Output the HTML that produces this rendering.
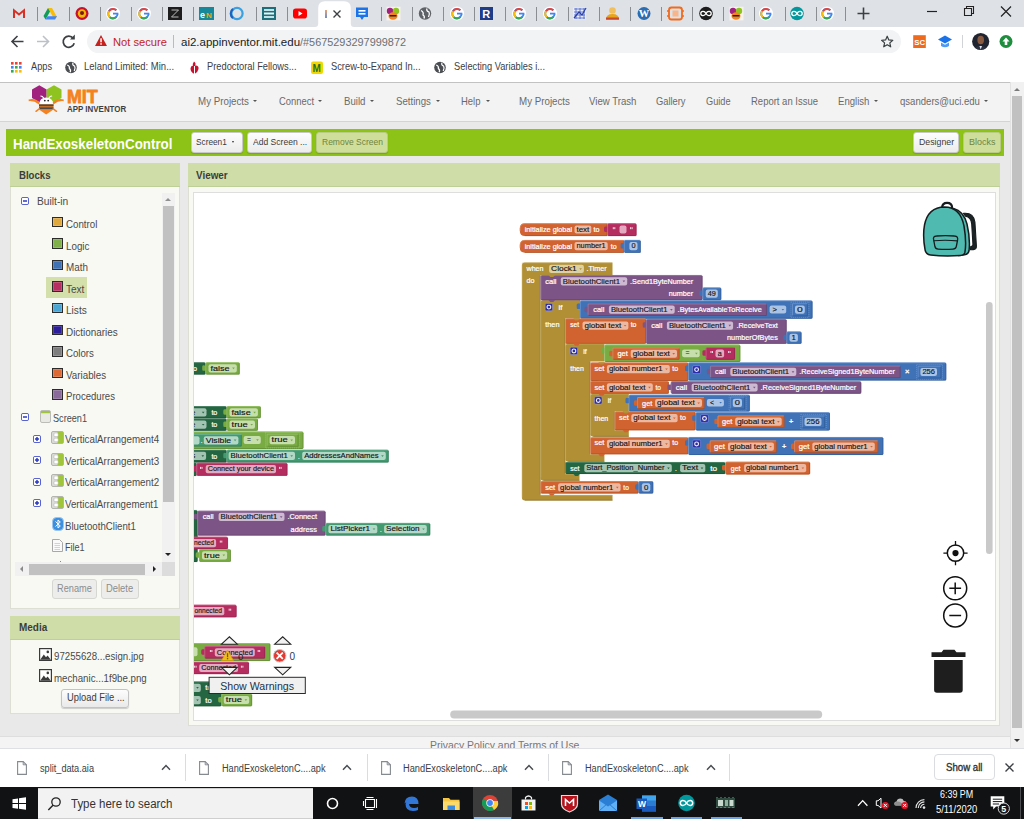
<!DOCTYPE html>
<html>
<head>
<meta charset="utf-8">
<title>MIT App Inventor</title>
<style>
*{box-sizing:border-box;margin:0;padding:0}
html,body{width:1024px;height:819px;overflow:hidden;background:#e9e9e9;font-family:"Liberation Sans",sans-serif}
.a{position:absolute}
#root{position:absolute;left:0;top:0;width:1024px;height:819px;overflow:hidden;background:#e9e9e9}
/* chrome */
#tabs{left:0;top:0;width:1024px;height:27px;background:#dee1e6}
#addr{left:0;top:27px;width:1024px;height:29px;background:#fff}
#pill{left:87.3px;top:30.2px;width:814.2px;height:22.8px;border-radius:11.4px;background:#f1f3f4}
#bm{left:0;top:56px;width:1024px;height:26.5px;background:#fff;border-bottom:1px solid #c2c2c2}
.t12{font-size:12px;color:#3c4043;white-space:nowrap;line-height:14px}
.sep{width:1px;height:14px;top:7px;background:#8a8d91}
/* app */
#nav{left:0;top:82.5px;width:1010px;height:39px;background:#f3f3f3;border-bottom:1px solid #d4d4d4}
.nv{font-size:12px;color:#6f6f6f;top:13px;white-space:nowrap;line-height:14px}
#green{left:6px;top:129.2px;width:997.5px;height:26.6px;background:#8dc216}
.btn{height:20px;top:3px;border:1px solid #c6c6c6;border-radius:3px;background:#f4f4f4;font-size:11px;color:#333;line-height:18px;text-align:center;white-space:nowrap;box-shadow:0 1px 1px rgba(0,0,0,.15)}
.panel{background:#f7f8f1;border:1px solid #d8dccb}
.phead{background:#d0dfa7;font-weight:bold;font-size:12px;color:#3a3a3a;line-height:25px;height:25px;padding-left:8px}
.tl{font-size:12px;color:#444;white-space:nowrap;line-height:14px}
.sq{width:12px;height:12px;border:1px solid #333;box-shadow:inset 0 0 0 1px rgba(255,255,255,.25)}
/* bottom */
#dl{left:0;top:747.6px;width:1024px;height:39.4px;background:#fff;border-top:1.4px solid #dfe0e6}
#task{left:0;top:787px;width:1024px;height:32px;background:#111214}
</style>
</head>
<body>
<div id="root">
<div id="tabs" class="a"></div>
<!-- tab separators -->
<div class="a sep" style="left:37px"></div><div class="a sep" style="left:69px"></div><div class="a sep" style="left:100px"></div><div class="a sep" style="left:131px"></div><div class="a sep" style="left:162px"></div><div class="a sep" style="left:193px"></div><div class="a sep" style="left:225px"></div><div class="a sep" style="left:256px"></div><div class="a sep" style="left:287px"></div>
<div class="a sep" style="left:381px"></div><div class="a sep" style="left:412px"></div><div class="a sep" style="left:443px"></div><div class="a sep" style="left:474px"></div><div class="a sep" style="left:505px"></div><div class="a sep" style="left:536px"></div><div class="a sep" style="left:568px"></div><div class="a sep" style="left:599px"></div><div class="a sep" style="left:630px"></div><div class="a sep" style="left:661px"></div><div class="a sep" style="left:692px"></div><div class="a sep" style="left:723px"></div><div class="a sep" style="left:754px"></div><div class="a sep" style="left:785px"></div><div class="a sep" style="left:816px"></div><div class="a sep" style="left:845px"></div>
<!-- active tab -->
<svg class="a" style="left:310px;top:0" width="50" height="27" viewBox="310 0 50 27"><path d="M315 27 Q318.2 27 318.2 23.5 V8 Q318.2 1.2 325 1.2 H344 Q350.8 1.2 350.8 8 V23.5 Q350.8 27 354 27 Z" fill="#fff"/></svg>
<div class="a" style="left:325px;top:9.5px;width:1.6px;height:8px;background:linear-gradient(#e8a070,#6a8fd0)"></div>
<svg class="a" style="left:332px;top:9px" width="10" height="10" viewBox="0 0 10 10"><path d="M1.5 1.5 L8.5 8.5 M8.5 1.5 L1.5 8.5" stroke="#3c4043" stroke-width="1.4" fill="none"/></svg>
<!-- favicons -->
<svg class="a" style="left:0;top:0" width="1024" height="27" viewBox="0 0 1024 27">
 <!-- gmail M -->
 <path d="M14 18 V10.3 L19 14.4 L24 10.3 V18" fill="none" stroke="#d93025" stroke-width="2" stroke-linejoin="miter"/>
 <!-- drive -->
 <path d="M48 8 L52 8 L57 17 L53 17 Z" fill="#fbbc04"/><path d="M48 8 L43.5 16 L45.5 19.5 L50 11.5 Z" fill="#0f9d58"/><path d="M45.5 19.5 L55 19.5 L57 16.2 L47.5 16.2 Z" fill="#4285f4"/>
 <!-- round red/yellow badge -->
 <circle cx="82" cy="13.5" r="6.5" fill="#c8102e"/><circle cx="82" cy="13.5" r="4.2" fill="#f2b705"/><circle cx="82" cy="13" r="2" fill="#7a1a12"/>
 <!-- google G x many -->
 <g><circle cx="113" cy="13.5" r="7" fill="#fff"/><path d="M117.6 13.7 A4.7 4.7 0 1 1 116.2 10.2" fill="none" stroke="#4285f4" stroke-width="1.9"/><path d="M109.1 11.2 A4.7 4.7 0 0 1 116.4 10.3" fill="none" stroke="#ea4335" stroke-width="1.9"/><path d="M109.9 17.2 A4.7 4.7 0 0 1 109.1 11.2" fill="none" stroke="#fbbc05" stroke-width="1.9"/><path d="M116.6 16.9 A4.7 4.7 0 0 1 109.9 17.2" fill="none" stroke="#34a853" stroke-width="1.9"/><rect x="113" y="12.7" width="5.3" height="1.8" fill="#4285f4"/></g>
 <g transform="translate(31,0)"><circle cx="113" cy="13.5" r="7" fill="#fff"/><path d="M117.6 13.7 A4.7 4.7 0 1 1 116.2 10.2" fill="none" stroke="#4285f4" stroke-width="1.9"/><path d="M109.1 11.2 A4.7 4.7 0 0 1 116.4 10.3" fill="none" stroke="#ea4335" stroke-width="1.9"/><path d="M109.9 17.2 A4.7 4.7 0 0 1 109.1 11.2" fill="none" stroke="#fbbc05" stroke-width="1.9"/><path d="M116.6 16.9 A4.7 4.7 0 0 1 109.9 17.2" fill="none" stroke="#34a853" stroke-width="1.9"/><rect x="113" y="12.7" width="5.3" height="1.8" fill="#4285f4"/></g><g transform="translate(344,0)"><circle cx="113" cy="13.5" r="7" fill="#fff"/><path d="M117.6 13.7 A4.7 4.7 0 1 1 116.2 10.2" fill="none" stroke="#4285f4" stroke-width="1.9"/><path d="M109.1 11.2 A4.7 4.7 0 0 1 116.4 10.3" fill="none" stroke="#ea4335" stroke-width="1.9"/><path d="M109.9 17.2 A4.7 4.7 0 0 1 109.1 11.2" fill="none" stroke="#fbbc05" stroke-width="1.9"/><path d="M116.6 16.9 A4.7 4.7 0 0 1 109.9 17.2" fill="none" stroke="#34a853" stroke-width="1.9"/><rect x="113" y="12.7" width="5.3" height="1.8" fill="#4285f4"/></g><g transform="translate(406,0)"><circle cx="113" cy="13.5" r="7" fill="#fff"/><path d="M117.6 13.7 A4.7 4.7 0 1 1 116.2 10.2" fill="none" stroke="#4285f4" stroke-width="1.9"/><path d="M109.1 11.2 A4.7 4.7 0 0 1 116.4 10.3" fill="none" stroke="#ea4335" stroke-width="1.9"/><path d="M109.9 17.2 A4.7 4.7 0 0 1 109.1 11.2" fill="none" stroke="#fbbc05" stroke-width="1.9"/><path d="M116.6 16.9 A4.7 4.7 0 0 1 109.9 17.2" fill="none" stroke="#34a853" stroke-width="1.9"/><rect x="113" y="12.7" width="5.3" height="1.8" fill="#4285f4"/></g><g transform="translate(437,0)"><circle cx="113" cy="13.5" r="7" fill="#fff"/><path d="M117.6 13.7 A4.7 4.7 0 1 1 116.2 10.2" fill="none" stroke="#4285f4" stroke-width="1.9"/><path d="M109.1 11.2 A4.7 4.7 0 0 1 116.4 10.3" fill="none" stroke="#ea4335" stroke-width="1.9"/><path d="M109.9 17.2 A4.7 4.7 0 0 1 109.1 11.2" fill="none" stroke="#fbbc05" stroke-width="1.9"/><path d="M116.6 16.9 A4.7 4.7 0 0 1 109.9 17.2" fill="none" stroke="#34a853" stroke-width="1.9"/><rect x="113" y="12.7" width="5.3" height="1.8" fill="#4285f4"/></g><g transform="translate(653,0)"><circle cx="113" cy="13.5" r="7" fill="#fff"/><path d="M117.6 13.7 A4.7 4.7 0 1 1 116.2 10.2" fill="none" stroke="#4285f4" stroke-width="1.9"/><path d="M109.1 11.2 A4.7 4.7 0 0 1 116.4 10.3" fill="none" stroke="#ea4335" stroke-width="1.9"/><path d="M109.9 17.2 A4.7 4.7 0 0 1 109.1 11.2" fill="none" stroke="#fbbc05" stroke-width="1.9"/><path d="M116.6 16.9 A4.7 4.7 0 0 1 109.9 17.2" fill="none" stroke="#34a853" stroke-width="1.9"/><rect x="113" y="12.7" width="5.3" height="1.8" fill="#4285f4"/></g><g transform="translate(714,0)"><circle cx="113" cy="13.5" r="7" fill="#fff"/><path d="M117.6 13.7 A4.7 4.7 0 1 1 116.2 10.2" fill="none" stroke="#4285f4" stroke-width="1.9"/><path d="M109.1 11.2 A4.7 4.7 0 0 1 116.4 10.3" fill="none" stroke="#ea4335" stroke-width="1.9"/><path d="M109.9 17.2 A4.7 4.7 0 0 1 109.1 11.2" fill="none" stroke="#fbbc05" stroke-width="1.9"/><path d="M116.6 16.9 A4.7 4.7 0 0 1 109.9 17.2" fill="none" stroke="#34a853" stroke-width="1.9"/><rect x="113" y="12.7" width="5.3" height="1.8" fill="#4285f4"/></g>
 <!-- Z black -->
 <rect x="168" y="7" width="14" height="13" fill="#1d1d1d"/><path d="M171.5 10 H178.5 L171.5 17 H178.5" fill="none" stroke="#bbb" stroke-width="1"/>
 <!-- eN teal -->
 <rect x="199" y="7" width="15" height="13" fill="#16889a"/><text x="200" y="17.5" font-family="Liberation Sans" font-size="9" font-weight="bold" fill="#fff">e</text><text x="206" y="17.5" font-family="Liberation Sans" font-size="8" font-weight="bold" fill="#f7a51c">N</text>
 <!-- ring blue -->
 <circle cx="237" cy="13.5" r="5.6" fill="none" stroke="#3aa0e0" stroke-width="2.2"/><path d="M233 9 A5.6 5.6 0 0 0 233 18" fill="none" stroke="#1e62c0" stroke-width="2.2"/>
 <!-- teal film -->
 <rect x="262" y="7" width="14" height="13" fill="#1e6f7c"/><rect x="264" y="9" width="10" height="2" fill="#bfe3e8"/><rect x="264" y="12.5" width="10" height="2" fill="#e6f4f6"/><rect x="264" y="16" width="10" height="2" fill="#bfe3e8"/>
 <!-- youtube -->
 <rect x="293" y="8.5" width="14" height="10" rx="2.8" fill="#f00"/><path d="M298.5 11 L302.5 13.5 L298.5 16 Z" fill="#fff"/>
 <!-- blue chat -->
 <path d="M356 7.5 H368 V17 H364 L362 20 L360 17 H356 Z" fill="#1a73e8"/><rect x="358.5" y="10" width="7" height="1.6" fill="#fff"/><rect x="358.5" y="13" width="7" height="1.6" fill="#fff"/>
 <!-- appinventor colourful -->
 <rect x="386.5" y="6.8" width="14" height="13.6" fill="#f7f3ea"/><rect x="729.5" y="6.8" width="14" height="13.6" fill="#f7f3ea"/><g><circle cx="390" cy="11" r="3.2" fill="#a0227e"/><circle cx="396" cy="11" r="3.2" fill="#8fc31f"/><ellipse cx="393" cy="16" rx="4.5" ry="3.8" fill="#f58220"/><rect x="389.5" y="15" width="7" height="1.5" fill="#222"/></g>
 <g transform="translate(343,0)"><circle cx="390" cy="11" r="3.2" fill="#a0227e"/><circle cx="396" cy="11" r="3.2" fill="#8fc31f"/><ellipse cx="393" cy="16" rx="4.5" ry="3.8" fill="#f58220"/><rect x="389.5" y="15" width="7" height="1.5" fill="#222"/></g>
 <!-- globe dark -->
 <circle cx="425" cy="13.5" r="6.2" fill="#5f6368"/><path d="M421 10.5 Q424 12 423 15 Q425 16 424 18.5 M427 8.5 Q426 11 429 12 Q430 14 428.5 17" stroke="#fff" stroke-width="1.3" fill="none"/>
 <!-- R navy -->
 <rect x="480" y="7" width="13" height="13" fill="#1f3c88"/><text x="482.3" y="17.6" font-family="Liberation Sans" font-size="11" font-weight="bold" fill="#fff">R</text>
 <!-- blue doodle -->
 <rect x="573" y="7.5" width="13" height="12" fill="#e8ecfb"/><path d="M574 9 H585 M574 12 H585 M574 15 H585 M574 18 H585 M576 8 V19 M580 8 V19 M584 8 V19" stroke="#4a63c8" stroke-width="0.8"/><path d="M574 18 L579 12 L582 15 L586 8" stroke="#2b3fa0" stroke-width="1.2" fill="none"/>
 <!-- yellow person -->
 <path d="M606 19.5 Q606 14 612.5 14 Q619 14 619 19.5 Z" fill="#e9a51a"/><circle cx="612.5" cy="10.5" r="3.3" fill="#f0c060"/><rect x="606" y="17.5" width="13" height="2.2" fill="#c84a2a"/>
 <!-- wordpress -->
 <circle cx="644" cy="13.5" r="6.5" fill="#2a6db3"/><text x="638.8" y="17.4" font-family="Liberation Serif" font-size="10.5" font-weight="bold" fill="#fff">W</text>
 <!-- orange chip -->
 <rect x="669" y="7.5" width="13" height="12" rx="2.5" fill="none" stroke="#f26a1b" stroke-width="1.8"/><rect x="672.5" y="10.5" width="6" height="6" fill="#f9b48a"/><path d="M667 11 H669 M667 16 H669 M682 11 H684 M682 16 H684" stroke="#f26a1b" stroke-width="1.4"/>
 <!-- arduino black -->
 <circle cx="706" cy="13.5" r="6.8" fill="#1c1c1c"/><path d="M706 13.5 C704.5 10.5 700.8 11 700.8 13.5 C700.8 16 704.5 16.5 706 13.5 C707.5 10.5 711.2 11 711.2 13.5 C711.2 16 707.5 16.5 706 13.5 Z" fill="none" stroke="#fff" stroke-width="1.3"/>
 <!-- arduino teal -->
 <circle cx="797" cy="13.5" r="6.8" fill="#00979d"/><path d="M797 13.5 C795.5 10.5 791.8 11 791.8 13.5 C791.8 16 795.5 16.5 797 13.5 C798.5 10.5 802.2 11 802.2 13.5 C802.2 16 798.5 16.5 797 13.5 Z" fill="none" stroke="#fff" stroke-width="1.3"/>
 <!-- plus -->
 <path d="M857.5 13.5 H869.5 M863.5 7.5 V19.5" stroke="#3c4043" stroke-width="1.6"/>
 <!-- window controls -->
 <path d="M927 11.5 H937" stroke="#222" stroke-width="1.2"/>
 <path d="M964.5 8.5 H971.5 V15.5 H964.5 Z M966.5 8.5 V6.5 H973.5 V13.5 H971.5" fill="none" stroke="#222" stroke-width="1.1"/>
 <path d="M1001 6.5 L1011 16.5 M1011 6.5 L1001 16.5" stroke="#222" stroke-width="1.2"/>
</svg>

<div id="addr" class="a"></div>
<div id="pill" class="a"></div>
<svg class="a" style="left:0;top:27px" width="1024" height="29" viewBox="0 0 1024 29">
 <!-- back -->
 <path d="M23.5 14.5 H12.5 M17.5 9 L12 14.5 L17.5 20" fill="none" stroke="#3c4043" stroke-width="1.6"/>
 <!-- forward -->
 <path d="M37 14.5 H48 M43 9 L48.5 14.5 L43 20" fill="none" stroke="#bdc1c6" stroke-width="1.6"/>
 <!-- reload -->
 <path d="M73.2 11.2 A5.6 5.6 0 1 0 74.2 16.2" fill="none" stroke="#3c4043" stroke-width="1.7"/><path d="M74.8 7.6 V12.4 H70 Z" fill="#3c4043"/>
 <!-- warning triangle -->
 <path d="M101 8 L107 19 H95 Z" fill="#c5221f"/><rect x="100.3" y="11.3" width="1.5" height="4" fill="#fff"/><rect x="100.3" y="16.2" width="1.5" height="1.5" fill="#fff"/>
 <rect x="173" y="8" width="1" height="13" fill="#b8bbbf"/>
 <!-- star -->
 <path d="M887.2 9.2 L888.8 12.9 L892.8 13.3 L889.8 15.9 L890.7 19.8 L887.2 17.7 L883.7 19.8 L884.6 15.9 L881.6 13.3 L885.6 12.9 Z" fill="none" stroke="#3c4043" stroke-width="1.2" stroke-linejoin="round"/>
 <!-- SC orange -->
 <rect x="913.2" y="8.2" width="12.6" height="12.8" fill="#f06a1d"/><text x="914.3" y="17.6" font-family="Liberation Sans" font-size="7.8" font-weight="bold" fill="#fff">SC</text>
 <!-- blue grad cap -->
 <path d="M938 12.5 L945 8.5 L952 12.5 L945 16.5 Z" fill="#1a73e8"/><path d="M941 15.5 V19 Q945 21.5 949 19 V15.5 L945 17.8 Z" fill="#4d9bf5"/>
 <rect x="962" y="8" width="1" height="13" fill="#d0d3d7"/>
 <!-- avatar -->
 <circle cx="980.7" cy="14.5" r="8.6" fill="#1f2430"/><ellipse cx="980.7" cy="13" rx="3.3" ry="4.2" fill="#8a5a40"/><path d="M975 21 Q980.7 16.5 986.4 21 Q980.7 24.2 975 21Z" fill="#2c3140"/><path d="M979.4 19 L980.7 22.5 L982 19 Z" fill="#dfe6f2"/>
 <!-- update green -->
 <circle cx="1006" cy="14.5" r="6.5" fill="#1e8e3e"/><path d="M1006 10.5 L1009.5 14.5 H1007.3 V18 H1004.7 V14.5 H1002.5 Z" fill="#fff"/>
</svg>
<div class="a" style="left:113.0px;top:35.02px;font-size:11.5px;color:#c5221f;white-space:nowrap;line-height:14px;transform-origin:0 0;transform:scaleX(0.971);">Not secure</div>
<div class="a" style="left:181.0px;top:35.02px;font-size:11.5px;color:#202124;white-space:nowrap;line-height:14px;transform-origin:0 0;transform:scaleX(1.001);">ai2.appinventor.mit.edu</div>
<div class="a" style="left:300.0px;top:35.02px;font-size:11.5px;color:#6b6f74;white-space:nowrap;line-height:14px;transform-origin:0 0;transform:scaleX(0.947);">/#5675293297999872</div>

<div id="bm" class="a"></div>
<svg class="a" style="left:0;top:56px" width="1024" height="25" viewBox="0 0 1024 25">
 <!-- apps grid -->
 <g><rect x="11" y="6" width="2.6" height="2.6" fill="#ea4335"/><rect x="15" y="6" width="2.6" height="2.6" fill="#ea4335"/><rect x="19" y="6" width="2.6" height="2.6" fill="#ea4335"/><rect x="11" y="10" width="2.6" height="2.6" fill="#4285f4"/><rect x="15" y="10" width="2.6" height="2.6" fill="#34a853"/><rect x="19" y="10" width="2.6" height="2.6" fill="#4285f4"/><rect x="11" y="14" width="2.6" height="2.6" fill="#34a853"/><rect x="15" y="14" width="2.6" height="2.6" fill="#fbbc05"/><rect x="19" y="14" width="2.6" height="2.6" fill="#fbbc05"/></g>
 <!-- globe 1 -->
 <g><circle cx="71" cy="11.5" r="5.8" fill="#4a4d51"/><path d="M67.2 9 Q70 10 69.4 12.6 Q71.2 13.6 70.2 16.2 M73 6.8 Q72 9 74.6 10 Q75.8 12 74.2 15" stroke="#fff" stroke-width="1.25" fill="none"/></g>
 <g transform="translate(369,0)"><circle cx="71" cy="11.5" r="5.8" fill="#4a4d51"/><path d="M67.2 9 Q70 10 69.4 12.6 Q71.2 13.6 70.2 16.2 M73 6.8 Q72 9 74.6 10 Q75.8 12 74.2 15" stroke="#fff" stroke-width="1.25" fill="none"/></g>
 <!-- red heart torch -->
 <path d="M194 5.5 Q196.5 7.5 195 9.5 Q199 9 198.5 13 Q198 16 194.5 18 Q190.5 16 190.5 12.5 Q190.5 9.8 193 9.5 Q192.5 7.5 194 5.5 Z" fill="#c8102e"/><path d="M194.5 10 V18" stroke="#fff" stroke-width="1"/>
 <!-- M yellow -->
 <rect x="311" y="5.5" width="12" height="12.5" rx="2" fill="#f2d600"/><text x="312.6" y="15.7" font-family="Liberation Sans" font-size="10" font-weight="bold" fill="#2a6b2a">M</text>
</svg>
<div class="a" style="left:31.0px;top:59.19px;font-size:11px;color:#3c4043;white-space:nowrap;line-height:14px;transform-origin:0 0;transform:scaleX(0.838);">Apps</div>
<div class="a" style="left:84.0px;top:59.19px;font-size:11px;color:#3c4043;white-space:nowrap;line-height:14px;transform-origin:0 0;transform:scaleX(0.861);">Leland Limited: Min...</div>
<div class="a" style="left:207.0px;top:59.19px;font-size:11px;color:#3c4043;white-space:nowrap;line-height:14px;transform-origin:0 0;transform:scaleX(0.846);">Predoctoral Fellows...</div>
<div class="a" style="left:330.5px;top:59.19px;font-size:11px;color:#3c4043;white-space:nowrap;line-height:14px;transform-origin:0 0;transform:scaleX(0.846);">Screw-to-Expand In...</div>
<div class="a" style="left:453.5px;top:59.19px;font-size:11px;color:#3c4043;white-space:nowrap;line-height:14px;transform-origin:0 0;transform:scaleX(0.842);">Selecting Variables i...</div>

<div id="nav" class="a"></div>
<svg class="a" style="left:24px;top:82px" width="48" height="40" viewBox="24 82 48 40">
<path d="M39.3 85.2 L46.6 89.5 V97.9 L39.3 102.2 L32 97.9 V89.5 Z" fill="#a0227e"/>
<path d="M54 85.2 L61.5 89.5 V97.9 L54 102.2 L46.6 97.9 V89.5 Z" fill="#8fc31f"/>
<path d="M28.6 99.4 Q33 98.2 36.5 100 L40.5 102.5 L39 104.5 Q34 100.6 28.8 101.2 Z" fill="#f58220"/>
<path d="M63.8 99.4 Q59.4 98.2 55.9 100 L51.9 102.5 L53.4 104.5 Q58.4 100.6 63.6 101.2 Z" fill="#f58220"/>
<path d="M39 103 H53.5 V109.5 L46.2 114.4 L39 109.5 Z" fill="#f58220"/>
<path d="M39.2 104.2 Q39.6 97.4 46.2 97.4 Q52.8 97.4 53.3 104.2 Z" fill="#fff"/>
<rect x="39" y="104.4" width="14.5" height="1.9" fill="#4a4a4a"/><rect x="39" y="107.3" width="14.5" height="1.8" fill="#4a4a4a"/>
<circle cx="44.8" cy="100.6" r=".9" fill="#222"/><circle cx="48.2" cy="100.6" r=".9" fill="#222"/>
<path d="M43.6 98 Q42.5 96 40.8 96 M48.9 98 Q50 96 51.7 96" stroke="#fff" stroke-width="1.1" fill="none" stroke-linecap="round"/>
<path d="M39.2 108.8 L36 111.3 M53.3 108.8 L56.5 111.3" stroke="#f58220" stroke-width="1.5" stroke-linecap="round"/>
</svg>
<div class="a" style="left:67.3px;top:84.76px;font-size:18.6px;color:#f58220;font-weight:bold;white-space:nowrap;line-height:23px;transform-origin:0 0;transform:scaleX(0.959);-webkit-text-stroke:0.8px #f58220;">MIT</div>
<div class="a" style="left:67.0px;top:104.09px;font-size:8.4px;color:#3f3f3f;font-weight:bold;white-space:nowrap;line-height:10px;transform-origin:0 0;transform:scaleX(0.947);">APP INVENTOR</div>
<div class="a" style="left:197.5px;top:94.80px;font-size:10.4px;color:#6a6a6a;white-space:nowrap;line-height:13px;transform-origin:0 0;transform:scaleX(0.939);">My Projects</div>
<div class="a" style="left:253.0px;top:99.9px;width:0;height:0;border-left:2px solid transparent;border-right:2px solid transparent;border-top:2.4px solid #555"></div>
<div class="a" style="left:278.5px;top:94.80px;font-size:10.4px;color:#6a6a6a;white-space:nowrap;line-height:13px;transform-origin:0 0;transform:scaleX(0.904);">Connect</div>
<div class="a" style="left:318.0px;top:99.9px;width:0;height:0;border-left:2px solid transparent;border-right:2px solid transparent;border-top:2.4px solid #555"></div>
<div class="a" style="left:344.0px;top:94.80px;font-size:10.4px;color:#6a6a6a;white-space:nowrap;line-height:13px;transform-origin:0 0;transform:scaleX(0.930);">Build</div>
<div class="a" style="left:370.0px;top:99.9px;width:0;height:0;border-left:2px solid transparent;border-right:2px solid transparent;border-top:2.4px solid #555"></div>
<div class="a" style="left:396.0px;top:94.80px;font-size:10.4px;color:#6a6a6a;white-space:nowrap;line-height:13px;transform-origin:0 0;transform:scaleX(0.931);">Settings</div>
<div class="a" style="left:436.0px;top:99.9px;width:0;height:0;border-left:2px solid transparent;border-right:2px solid transparent;border-top:2.4px solid #555"></div>
<div class="a" style="left:461.0px;top:94.80px;font-size:10.4px;color:#6a6a6a;white-space:nowrap;line-height:13px;transform-origin:0 0;transform:scaleX(0.912);">Help</div>
<div class="a" style="left:485.5px;top:99.9px;width:0;height:0;border-left:2px solid transparent;border-right:2px solid transparent;border-top:2.4px solid #555"></div>
<div class="a" style="left:518.5px;top:94.80px;font-size:10.4px;color:#6a6a6a;white-space:nowrap;line-height:13px;transform-origin:0 0;transform:scaleX(0.939);">My Projects</div>
<div class="a" style="left:588.5px;top:94.80px;font-size:10.4px;color:#6a6a6a;white-space:nowrap;line-height:13px;transform-origin:0 0;transform:scaleX(0.927);">View Trash</div>
<div class="a" style="left:656.0px;top:94.80px;font-size:10.4px;color:#6a6a6a;white-space:nowrap;line-height:13px;transform-origin:0 0;transform:scaleX(0.896);">Gallery</div>
<div class="a" style="left:705.5px;top:94.80px;font-size:10.4px;color:#6a6a6a;white-space:nowrap;line-height:13px;transform-origin:0 0;transform:scaleX(0.883);">Guide</div>
<div class="a" style="left:750.5px;top:94.80px;font-size:10.4px;color:#6a6a6a;white-space:nowrap;line-height:13px;transform-origin:0 0;transform:scaleX(0.913);">Report an Issue</div>
<div class="a" style="left:837.5px;top:94.80px;font-size:10.4px;color:#6a6a6a;white-space:nowrap;line-height:13px;transform-origin:0 0;transform:scaleX(0.923);">English</div>
<div class="a" style="left:874.0px;top:99.9px;width:0;height:0;border-left:2px solid transparent;border-right:2px solid transparent;border-top:2.4px solid #555"></div>
<div class="a" style="left:899.5px;top:94.80px;font-size:10.4px;color:#6a6a6a;white-space:nowrap;line-height:13px;transform-origin:0 0;transform:scaleX(0.921);">qsanders@uci.edu</div>
<div class="a" style="left:983.5px;top:99.9px;width:0;height:0;border-left:2px solid transparent;border-right:2px solid transparent;border-top:2.4px solid #555"></div>
<div id="green" class="a"></div>
<div class="a" style="left:13.0px;top:133.60px;font-size:15px;color:#fff;font-weight:bold;white-space:nowrap;line-height:19px;transform-origin:0 0;transform:scaleX(0.890);">HandExoskeletonControl</div>
<div class="a" style="left:190.5px;top:132px;width:52.5px;height:20.5px;background:linear-gradient(#fdfdfd,#ececec);border:1px solid #c8c8c8;border-radius:3px;box-shadow:0 1px 1px rgba(60,80,0,.25);"></div><div class="a" style="left:196.0px;top:135.70px;font-size:9.8px;color:#3b3b3b;white-space:nowrap;line-height:12px;transform-origin:0 0;transform:scaleX(0.844);">Screen1</div><div class="a" style="left:232.2px;top:140.5px;width:0;height:0;border-left:1.8px solid transparent;border-right:1.8px solid transparent;border-top:2.2px solid #333"></div>
<div class="a" style="left:247.3px;top:132px;width:64.69999999999999px;height:20.5px;background:linear-gradient(#fdfdfd,#ececec);border:1px solid #c8c8c8;border-radius:3px;box-shadow:0 1px 1px rgba(60,80,0,.25);"></div><div class="a" style="left:252.6px;top:135.70px;font-size:9.8px;color:#3b3b3b;white-space:nowrap;line-height:12px;transform-origin:0 0;transform:scaleX(0.873);">Add Screen ...</div>
<div class="a" style="left:316px;top:132px;width:72.39999999999998px;height:20.5px;background:#cfdf9b;border:1px solid #b9cc85;border-radius:3px;box-shadow:0 1px 1px rgba(60,80,0,.25);"></div><div class="a" style="left:321.8px;top:135.70px;font-size:9.8px;color:#6f8440;white-space:nowrap;line-height:12px;transform-origin:0 0;transform:scaleX(0.868);">Remove Screen</div>
<div class="a" style="left:913px;top:132px;width:46px;height:20.5px;background:linear-gradient(#fdfdfd,#ececec);border:1px solid #c8c8c8;border-radius:3px;box-shadow:0 1px 1px rgba(60,80,0,.25);"></div><div class="a" style="left:918.7px;top:135.70px;font-size:9.8px;color:#3b3b3b;white-space:nowrap;line-height:12px;transform-origin:0 0;transform:scaleX(0.895);">Designer</div>
<div class="a" style="left:963.3px;top:132px;width:37.700000000000045px;height:20.5px;background:#cfdf9b;border:1px solid #b9cc85;border-radius:3px;box-shadow:0 1px 1px rgba(60,80,0,.25);"></div><div class="a" style="left:968.9px;top:135.70px;font-size:9.8px;color:#6f8440;white-space:nowrap;line-height:12px;transform-origin:0 0;transform:scaleX(0.915);">Blocks</div>
<div class="a" style="left:9.8px;top:163px;width:170.5px;height:445.6px;background:#f8f9f3;border:1px solid #dcdfd2;"></div>
<div class="a" style="left:9.8px;top:163px;width:170.5px;height:23.5px;background:#cfdea8;border-bottom:1px solid #bfcf98;"></div>
<div class="a" style="left:18.6px;top:167.69px;font-size:11px;color:#3c3c3c;font-weight:bold;white-space:nowrap;line-height:14px;transform-origin:0 0;transform:scaleX(0.873);">Blocks</div>
<div class="a" style="left:188.3px;top:163px;width:811.5px;height:562.5px;background:#f8f9f3;border:1px solid #dcdfd2;"></div>
<div class="a" style="left:188.3px;top:163px;width:811.5px;height:23.5px;background:#cfdea8;border-bottom:1px solid #bfcf98;"></div>
<div class="a" style="left:196.0px;top:167.79px;font-size:11px;color:#3c3c3c;font-weight:bold;white-space:nowrap;line-height:14px;transform-origin:0 0;transform:scaleX(0.899);">Viewer</div>
<div class="a" style="left:192.5px;top:192px;width:803px;height:529px;background:#fff;border:1px solid #dedede;"></div>
<div class="a" style="left:9.8px;top:616px;width:170.5px;height:97.6px;background:#f8f9f3;border:1px solid #dcdfd2;"></div>
<div class="a" style="left:9.8px;top:616px;width:170.5px;height:23.5px;background:#cfdea8;border-bottom:1px solid #bfcf98;"></div>
<div class="a" style="left:18.9px;top:620.39px;font-size:11px;color:#3c3c3c;font-weight:bold;white-space:nowrap;line-height:14px;transform-origin:0 0;transform:scaleX(0.905);">Media</div>
<svg class="a" style="left:20.6px;top:197.2px" width="8" height="8" viewBox="0 0 9 9"><rect x="0.5" y="0.5" width="8" height="8" rx="1.6" fill="#fff" stroke="#3a46c4" stroke-width="1"/><rect x="2.2" y="3.7" width="4.6" height="1.6" fill="#2231c0"/></svg>
<div class="a" style="left:37.1px;top:194.86px;font-size:10.5px;color:#4a4a4a;white-space:nowrap;line-height:13px;transform-origin:0 0;transform:scaleX(0.975);">Built-in</div>
<div class="a" style="left:46px;top:277.4px;width:40.7px;height:20.6px;background:#d3e0ab;"></div>
<div class="a" style="left:52.3px;top:216.7px;width:10.8px;height:10.8px;background:#dfa83e;border:1px solid #2b2b2b;box-shadow:inset 0 0 0 1px rgba(255,255,255,.18);"></div>
<div class="a" style="left:65.5px;top:217.86px;font-size:10.5px;color:#4a4a4a;white-space:nowrap;line-height:13px;transform-origin:0 0;transform:scaleX(0.925);">Control</div>
<div class="a" style="left:52.3px;top:238.39999999999998px;width:10.8px;height:10.8px;background:#7fb04a;border:1px solid #2b2b2b;box-shadow:inset 0 0 0 1px rgba(255,255,255,.18);"></div>
<div class="a" style="left:65.5px;top:239.56px;font-size:10.5px;color:#4a4a4a;white-space:nowrap;line-height:13px;transform-origin:0 0;transform:scaleX(0.932);">Logic</div>
<div class="a" style="left:52.3px;top:259.7px;width:10.8px;height:10.8px;background:#3f71b5;border:1px solid #2b2b2b;box-shadow:inset 0 0 0 1px rgba(255,255,255,.18);"></div>
<div class="a" style="left:65.5px;top:260.86px;font-size:10.5px;color:#4a4a4a;white-space:nowrap;line-height:13px;transform-origin:0 0;transform:scaleX(0.938);">Math</div>
<div class="a" style="left:52.3px;top:281.4px;width:10.8px;height:10.8px;background:#b82d62;border:1px solid #2b2b2b;box-shadow:inset 0 0 0 1px rgba(255,255,255,.18);"></div>
<div class="a" style="left:65.5px;top:282.56px;font-size:10.5px;color:#4a4a4a;white-space:nowrap;line-height:13px;transform-origin:0 0;transform:scaleX(0.956);">Text</div>
<div class="a" style="left:52.3px;top:302.7px;width:10.8px;height:10.8px;background:#49a6d4;border:1px solid #2b2b2b;box-shadow:inset 0 0 0 1px rgba(255,255,255,.18);"></div>
<div class="a" style="left:65.5px;top:303.86px;font-size:10.5px;color:#4a4a4a;white-space:nowrap;line-height:13px;transform-origin:0 0;transform:scaleX(0.963);">Lists</div>
<div class="a" style="left:52.3px;top:324.59999999999997px;width:10.8px;height:10.8px;background:#2d1e9c;border:1px solid #2b2b2b;box-shadow:inset 0 0 0 1px rgba(255,255,255,.18);"></div>
<div class="a" style="left:65.5px;top:325.76px;font-size:10.5px;color:#4a4a4a;white-space:nowrap;line-height:13px;transform-origin:0 0;transform:scaleX(0.944);">Dictionaries</div>
<div class="a" style="left:52.3px;top:346.09999999999997px;width:10.8px;height:10.8px;background:#7e7e7e;border:1px solid #2b2b2b;box-shadow:inset 0 0 0 1px rgba(255,255,255,.18);"></div>
<div class="a" style="left:65.5px;top:347.26px;font-size:10.5px;color:#4a4a4a;white-space:nowrap;line-height:13px;transform-origin:0 0;transform:scaleX(0.920);">Colors</div>
<div class="a" style="left:52.3px;top:367.5px;width:10.8px;height:10.8px;background:#dd6a35;border:1px solid #2b2b2b;box-shadow:inset 0 0 0 1px rgba(255,255,255,.18);"></div>
<div class="a" style="left:65.5px;top:368.66px;font-size:10.5px;color:#4a4a4a;white-space:nowrap;line-height:13px;transform-origin:0 0;transform:scaleX(0.933);">Variables</div>
<div class="a" style="left:52.3px;top:388.9px;width:10.8px;height:10.8px;background:#8a6a9a;border:1px solid #2b2b2b;box-shadow:inset 0 0 0 1px rgba(255,255,255,.18);"></div>
<div class="a" style="left:65.5px;top:390.06px;font-size:10.5px;color:#4a4a4a;white-space:nowrap;line-height:13px;transform-origin:0 0;transform:scaleX(0.911);">Procedures</div>
<svg class="a" style="left:20.6px;top:412.7px" width="8" height="8" viewBox="0 0 9 9"><rect x="0.5" y="0.5" width="8" height="8" rx="1.6" fill="#fff" stroke="#3a46c4" stroke-width="1"/><rect x="2.2" y="3.7" width="4.6" height="1.6" fill="#2231c0"/></svg>
<svg class="a" style="left:39.5px;top:409.5px" width="11" height="13" viewBox="0 0 11 13"><rect x="0.5" y="0.5" width="10" height="12" rx="1.5" fill="#e9e9e6" stroke="#bdbdb8"/><rect x="1" y="1" width="9" height="2.2" fill="#9fc63a"/></svg>
<div class="a" style="left:52.7px;top:412.06px;font-size:10.5px;color:#4a4a4a;white-space:nowrap;line-height:13px;transform-origin:0 0;transform:scaleX(0.869);">Screen1</div>
<svg class="a" style="left:33.2px;top:434.5px" width="8" height="8" viewBox="0 0 9 9"><rect x="0.5" y="0.5" width="8" height="8" rx="1.6" fill="#fff" stroke="#3a46c4" stroke-width="1"/><rect x="2.2" y="3.7" width="4.6" height="1.6" fill="#2231c0"/><rect x="3.7" y="2.2" width="1.6" height="4.6" fill="#2231c0"/></svg><svg class="a" style="left:51.3px;top:431.1px" width="13" height="13" viewBox="0 0 13 13"><rect x="0.5" y="0.5" width="12" height="12" rx="1.5" fill="#dcdcd8" stroke="#b4b4ae"/><rect x="6.5" y="1" width="5.5" height="11" fill="#9fc63a"/><rect x="3" y="2" width="4.2" height="3.6" rx=".8" fill="#fff" stroke="#aaa" stroke-width=".5"/><rect x="3" y="7.2" width="4.2" height="3.6" rx=".8" fill="#fff" stroke="#aaa" stroke-width=".5"/></svg><div class="a" style="left:65.4px;top:433.26px;font-size:10.5px;color:#4a4a4a;white-space:nowrap;line-height:13px;transform-origin:0 0;transform:scaleX(0.932);">VerticalArrangement4</div>
<svg class="a" style="left:33.2px;top:456.0px" width="8" height="8" viewBox="0 0 9 9"><rect x="0.5" y="0.5" width="8" height="8" rx="1.6" fill="#fff" stroke="#3a46c4" stroke-width="1"/><rect x="2.2" y="3.7" width="4.6" height="1.6" fill="#2231c0"/><rect x="3.7" y="2.2" width="1.6" height="4.6" fill="#2231c0"/></svg><svg class="a" style="left:51.3px;top:452.6px" width="13" height="13" viewBox="0 0 13 13"><rect x="0.5" y="0.5" width="12" height="12" rx="1.5" fill="#dcdcd8" stroke="#b4b4ae"/><rect x="6.5" y="1" width="5.5" height="11" fill="#9fc63a"/><rect x="3" y="2" width="4.2" height="3.6" rx=".8" fill="#fff" stroke="#aaa" stroke-width=".5"/><rect x="3" y="7.2" width="4.2" height="3.6" rx=".8" fill="#fff" stroke="#aaa" stroke-width=".5"/></svg><div class="a" style="left:65.4px;top:454.76px;font-size:10.5px;color:#4a4a4a;white-space:nowrap;line-height:13px;transform-origin:0 0;transform:scaleX(0.932);">VerticalArrangement3</div>
<svg class="a" style="left:33.2px;top:477.5px" width="8" height="8" viewBox="0 0 9 9"><rect x="0.5" y="0.5" width="8" height="8" rx="1.6" fill="#fff" stroke="#3a46c4" stroke-width="1"/><rect x="2.2" y="3.7" width="4.6" height="1.6" fill="#2231c0"/><rect x="3.7" y="2.2" width="1.6" height="4.6" fill="#2231c0"/></svg><svg class="a" style="left:51.3px;top:474.1px" width="13" height="13" viewBox="0 0 13 13"><rect x="0.5" y="0.5" width="12" height="12" rx="1.5" fill="#dcdcd8" stroke="#b4b4ae"/><rect x="6.5" y="1" width="5.5" height="11" fill="#9fc63a"/><rect x="3" y="2" width="4.2" height="3.6" rx=".8" fill="#fff" stroke="#aaa" stroke-width=".5"/><rect x="3" y="7.2" width="4.2" height="3.6" rx=".8" fill="#fff" stroke="#aaa" stroke-width=".5"/></svg><div class="a" style="left:65.4px;top:476.26px;font-size:10.5px;color:#4a4a4a;white-space:nowrap;line-height:13px;transform-origin:0 0;transform:scaleX(0.932);">VerticalArrangement2</div>
<svg class="a" style="left:33.2px;top:499.3px" width="8" height="8" viewBox="0 0 9 9"><rect x="0.5" y="0.5" width="8" height="8" rx="1.6" fill="#fff" stroke="#3a46c4" stroke-width="1"/><rect x="2.2" y="3.7" width="4.6" height="1.6" fill="#2231c0"/><rect x="3.7" y="2.2" width="1.6" height="4.6" fill="#2231c0"/></svg><svg class="a" style="left:51.3px;top:495.9px" width="13" height="13" viewBox="0 0 13 13"><rect x="0.5" y="0.5" width="12" height="12" rx="1.5" fill="#dcdcd8" stroke="#b4b4ae"/><rect x="6.5" y="1" width="5.5" height="11" fill="#9fc63a"/><rect x="3" y="2" width="4.2" height="3.6" rx=".8" fill="#fff" stroke="#aaa" stroke-width=".5"/><rect x="3" y="7.2" width="4.2" height="3.6" rx=".8" fill="#fff" stroke="#aaa" stroke-width=".5"/></svg><div class="a" style="left:65.4px;top:498.06px;font-size:10.5px;color:#4a4a4a;white-space:nowrap;line-height:13px;transform-origin:0 0;transform:scaleX(0.925);">VerticalArrangement1</div>
<svg class="a" style="left:51.5px;top:517px" width="12" height="14" viewBox="0 0 12 14"><rect x="0.5" y="0.5" width="11" height="13" rx="4" fill="#3b8fe0" stroke="#9cc6ee"/><path d="M3.5 4.5 L8.3 9 L6 11 V3 L8.3 5 L3.5 9.5" fill="none" stroke="#fff" stroke-width="1"/></svg>
<div class="a" style="left:65.3px;top:519.66px;font-size:10.5px;color:#4a4a4a;white-space:nowrap;line-height:13px;transform-origin:0 0;transform:scaleX(0.919);">BluetoothClient1</div>
<svg class="a" style="left:52px;top:539px" width="11" height="13" viewBox="0 0 11 13"><path d="M0.5 0.5 H7.5 L10.5 3.5 V12.5 H0.5 Z" fill="#fafafa" stroke="#a8a8a8"/><path d="M2.5 4.5 H8 M2.5 6.5 H8 M2.5 8.5 H8 M2.5 10.5 H8" stroke="#c4c8d4" stroke-width=".8"/></svg>
<div class="a" style="left:65.3px;top:541.06px;font-size:10.5px;color:#4a4a4a;white-space:nowrap;line-height:13px;transform-origin:0 0;transform:scaleX(0.861);">File1</div>
<div class="a" style="left:60px;top:561px;width:1.2px;height:1px;background:#888;"></div>
<div class="a" style="left:162px;top:192.5px;width:13px;height:369.5px;background:#f1f1f1;"></div>
<div class="a" style="left:163.3px;top:206px;width:10.7px;height:296.3px;background:#c1c1c1;"></div>
<div class="a" style="left:165.4px;top:197.5px;width:0;height:0;border-left:3px solid transparent;border-right:3px solid transparent;border-bottom:3.5px solid #909090"></div>
<div class="a" style="left:165.3px;top:553px;width:0;height:0;border-left:3.3px solid transparent;border-right:3.3px solid transparent;border-top:3.8px solid #222"></div>
<div class="a" style="left:15px;top:562px;width:147px;height:14px;background:#f1f1f1;"></div>
<div class="a" style="left:29px;top:563.5px;width:116px;height:11px;background:#c1c1c1;"></div>
<div class="a" style="left:162px;top:562px;width:13px;height:14px;background:#dcdcdc;"></div>
<div class="a" style="left:19.5px;top:566px;width:0;height:0;border-top:3px solid transparent;border-bottom:3px solid transparent;border-right:3.5px solid #8a8a8a"></div>
<div class="a" style="left:153px;top:565.7px;width:0;height:0;border-top:3.3px solid transparent;border-bottom:3.3px solid transparent;border-left:3.8px solid #222"></div>
<div class="a" style="left:51.6px;top:579.4px;width:45.4px;height:20.100000000000023px;background:#ededeb;border:1px solid #d6d6d2;border-radius:3px;"></div><div class="a" style="left:57.0px;top:582.36px;font-size:10.5px;color:#8c8c8c;white-space:nowrap;line-height:13px;transform-origin:0 0;transform:scaleX(0.879);">Rename</div>
<div class="a" style="left:101.3px;top:579.4px;width:37.7px;height:20.100000000000023px;background:#ededeb;border:1px solid #d6d6d2;border-radius:3px;"></div><div class="a" style="left:106.2px;top:582.36px;font-size:10.5px;color:#8c8c8c;white-space:nowrap;line-height:13px;transform-origin:0 0;transform:scaleX(0.896);">Delete</div>
<svg class="a" style="left:38.5px;top:647.7px" width="13" height="13" viewBox="0 0 13 13"><rect x="0.6" y="0.6" width="11.8" height="11.8" fill="#fff" stroke="#3a3a3a" stroke-width="1.2"/><path d="M1.2 11.8 L4.8 6.5 L7 9.3 L8.6 7.6 L11.8 11.8 Z" fill="#3a3a3a"/><circle cx="8.8" cy="3.9" r="1.3" fill="#3a3a3a"/></svg>
<div class="a" style="left:53.7px;top:650.26px;font-size:10.5px;color:#4a4a4a;white-space:nowrap;line-height:13px;transform-origin:0 0;transform:scaleX(0.921);">97255628...esign.jpg</div>
<svg class="a" style="left:38.5px;top:669.3px" width="13" height="13" viewBox="0 0 13 13"><rect x="0.6" y="0.6" width="11.8" height="11.8" fill="#fff" stroke="#3a3a3a" stroke-width="1.2"/><path d="M1.2 11.8 L4.8 6.5 L7 9.3 L8.6 7.6 L11.8 11.8 Z" fill="#3a3a3a"/><circle cx="8.8" cy="3.9" r="1.3" fill="#3a3a3a"/></svg>
<div class="a" style="left:53.7px;top:671.86px;font-size:10.5px;color:#4a4a4a;white-space:nowrap;line-height:13px;transform-origin:0 0;transform:scaleX(0.924);">mechanic...1f9be.png</div>
<div class="a" style="left:61px;top:689px;width:68.4px;height:19.200000000000045px;background:linear-gradient(#fdfdfd,#e9e9e9);border:1px solid #c3c3c3;border-radius:3px;box-shadow:0 1px 1px rgba(0,0,0,.18);"></div><div class="a" style="left:66.5px;top:691.16px;font-size:10.5px;color:#3b3b3b;white-space:nowrap;line-height:13px;transform-origin:0 0;transform:scaleX(0.891);">Upload File ...</div>
<svg class="a" style="left:193.5px;top:193px" width="801" height="527" viewBox="193.5 193 801 527" font-family="Liberation Sans, sans-serif">
<path d="M524.5 223.3 H606.8 V236.0 H524.5 Q519.3 236.0 519.3 230.8 V228.5 Q519.3 223.3 524.5 223.3 z" fill="#d0632f"/>
<path d="M519.7 230.8 V228.5 Q519.7 223.7 524.5 223.7 H606.8" fill="none" stroke="#e39a78" stroke-width=".7" opacity=".8"/>
<path d="M524.3 235.7 H606.4 V224.3" fill="none" stroke="#9c4821" stroke-width=".7" opacity=".75"/>
<text x="524.2" y="232.2" font-size="7.8" fill="#fff" textLength="47.4" lengthAdjust="spacingAndGlyphs" stroke="#fff" stroke-width=".22">initialize global</text>
<rect x="574.0" y="225.4" width="16.8" height="8.2" rx="2" fill="#edb8a2"/>
<text x="576.0" y="231.7" font-size="7.8" fill="#141414" textLength="12.8" lengthAdjust="spacingAndGlyphs" stroke="#141414" stroke-width=".15">text</text>
<text x="593.0" y="232.2" font-size="7.8" fill="#fff" textLength="6.0" lengthAdjust="spacingAndGlyphs" stroke="#fff" stroke-width=".22">to</text>
<path d="M607.1 226.5 h-1.6 q-2.2 -0.4 -2 1.6 v2.2 q-0.2 2 2 1.6 h1.6 z" fill="#b52d5f"/>
<rect x="606.8" y="223.3" width="29.2" height="12.7" rx="1.6" fill="#b52d5f"/>
<path d="M607.1 235.0 V223.7 H635.5" fill="none" stroke="#d2749a" stroke-width=".7" opacity=".8"/>
<path d="M607.8 235.7 H635.6 V224.3" fill="none" stroke="#842046" stroke-width=".7" opacity=".75"/>
<path d="M612.8 227.2 v2 M614.3 227.2 v2" stroke="#fff" stroke-width=".9" opacity=".95"/>
<path d="M630.1 227.2 v2 M631.6 227.2 v2" stroke="#fff" stroke-width=".9" opacity=".95"/>
<rect x="619.0" y="225.6" width="7.0" height="8.0" rx="2" fill="#e4a9c0"/>
<path d="M524.5 239.9 H623.4 V252.8 H524.5 Q519.3 252.8 519.3 247.6 V245.1 Q519.3 239.9 524.5 239.9 z" fill="#d0632f"/>
<path d="M519.7 247.6 V245.1 Q519.7 240.3 524.5 240.3 H623.4" fill="none" stroke="#e39a78" stroke-width=".7" opacity=".8"/>
<path d="M524.3 252.5 H623.0 V240.9" fill="none" stroke="#9c4821" stroke-width=".7" opacity=".75"/>
<text x="524.2" y="248.9" font-size="7.8" fill="#fff" textLength="47.4" lengthAdjust="spacingAndGlyphs" stroke="#fff" stroke-width=".22">initialize global</text>
<rect x="574.0" y="242.0" width="33.2" height="8.2" rx="2" fill="#edb8a2"/>
<text x="576.0" y="248.3" font-size="7.8" fill="#141414" textLength="29.2" lengthAdjust="spacingAndGlyphs" stroke="#141414" stroke-width=".15">number1</text>
<text x="610.3" y="248.9" font-size="7.8" fill="#fff" textLength="5.9" lengthAdjust="spacingAndGlyphs" stroke="#fff" stroke-width=".22">to</text>
<path d="M623.7 243.1 h-1.6 q-2.2 -0.4 -2 1.6 v2.2 q-0.2 2 2 1.6 h1.6 z" fill="#3f72b6"/>
<rect x="623.4" y="239.9" width="16.8" height="12.9" rx="1.6" fill="#3f72b6"/>
<path d="M623.8 251.8 V240.2 H639.7" fill="none" stroke="#7fa2d6" stroke-width=".7" opacity=".8"/>
<path d="M624.4 252.5 H639.9 V240.9" fill="none" stroke="#2d5389" stroke-width=".7" opacity=".75"/>
<rect x="628.9" y="242.0" width="8.1" height="8.2" rx="2" fill="#abc4e6"/>
<text x="630.9" y="248.3" font-size="7.8" fill="#141414" textLength="4.1" lengthAdjust="spacingAndGlyphs" stroke="#141414" stroke-width=".15">0</text>
<path d="M524.4 262.5 H612.0 V275.0 H540.0 V495.0 H612.0 V500.6 H524.4 Q521.4 500.6 521.4 497.6 V265.5 Q521.4 262.5 524.4 262.5 Z" fill="#b08f35"/>
<path d="M521.8 497.6 V262.9 H611.5" fill="none" stroke="#cdb671" stroke-width=".6" opacity=".7"/>
<path d="M539.7 275.5 V494.5" fill="none" stroke="#83692a" stroke-width=".6" opacity=".8"/>
<path d="M524.4 500.2 H612.0" fill="none" stroke="#83692a" stroke-width=".7" opacity=".8"/>
<path d="M540.0 495.3 H611.5" fill="none" stroke="#cdb671" stroke-width=".6"/>
<text x="526.0" y="270.9" font-size="7.8" fill="#fff" textLength="17.0" lengthAdjust="spacingAndGlyphs" stroke="#fff" stroke-width=".22">when</text>
<rect x="548.6" y="264.8" width="34.8" height="8.2" rx="2" fill="#ddd0a1"/>
<path d="M578.8 268.2 h2.6 l-1.3 1.7 z" fill="#b08f35"/>
<text x="550.6" y="271.1" font-size="7.8" fill="#141414" textLength="25.6" lengthAdjust="spacingAndGlyphs" stroke="#141414" stroke-width=".15">Clock1</text>
<text x="586.0" y="270.9" font-size="7.8" fill="#fff" textLength="20.2" lengthAdjust="spacingAndGlyphs" stroke="#fff" stroke-width=".22">.Timer</text>
<text x="526.0" y="282.9" font-size="7.8" fill="#fff" textLength="8.0" lengthAdjust="spacingAndGlyphs" stroke="#fff" stroke-width=".22">do</text>
<path d="M543.0 300.0 H579.5 V318.4 H564.8 V473.9 H579.0 V480.7 H543.0 Q540.0 480.7 540.0 477.7 V303.0 Q540.0 300.0 543.0 300.0 Z" fill="#b08f35"/>
<path d="M540.4 477.7 V300.4 H579.0" fill="none" stroke="#cdb671" stroke-width=".6" opacity=".7"/>
<path d="M564.5 318.9 V473.4" fill="none" stroke="#83692a" stroke-width=".6" opacity=".8"/>
<path d="M543.0 480.3 H579.0" fill="none" stroke="#83692a" stroke-width=".7" opacity=".8"/>
<path d="M564.8 474.2 H578.5" fill="none" stroke="#cdb671" stroke-width=".6"/>
<path d="M567.8 343.8 H603.9 V361.6 H589.8 V454.3 H603.9 V461.8 H567.8 Q564.8 461.8 564.8 458.8 V346.8 Q564.8 343.8 567.8 343.8 Z" fill="#b08f35"/>
<path d="M565.1 458.8 V344.2 H603.4" fill="none" stroke="#cdb671" stroke-width=".6" opacity=".7"/>
<path d="M589.5 362.1 V453.8" fill="none" stroke="#83692a" stroke-width=".6" opacity=".8"/>
<path d="M567.8 461.4 H603.9" fill="none" stroke="#83692a" stroke-width=".7" opacity=".8"/>
<path d="M589.8 454.6 H603.4" fill="none" stroke="#cdb671" stroke-width=".6"/>
<path d="M592.8 393.8 H628.3 V411.4 H614.2 V430.3 H628.3 V436.8 H592.8 Q589.8 436.8 589.8 433.8 V396.8 Q589.8 393.8 592.8 393.8 Z" fill="#b08f35"/>
<path d="M590.1 433.8 V394.2 H627.8" fill="none" stroke="#cdb671" stroke-width=".6" opacity=".7"/>
<path d="M613.9 411.9 V429.8" fill="none" stroke="#83692a" stroke-width=".6" opacity=".8"/>
<path d="M592.8 436.4 H628.3" fill="none" stroke="#83692a" stroke-width=".7" opacity=".8"/>
<path d="M614.2 430.6 H627.8" fill="none" stroke="#cdb671" stroke-width=".6"/>
<rect x="540.0" y="275.0" width="162.0" height="25.2" rx="1.6" fill="#7c5486"/>
<path d="M540.4 299.2 V275.4 H701.5" fill="none" stroke="#a98db1" stroke-width=".7" opacity=".8"/>
<path d="M541.0 299.8 H701.6 V276.0" fill="none" stroke="#5a3c62" stroke-width=".7" opacity=".75"/>
<path d="M548.0 300.0 l1.8 2.1 h3 l1.8 -2.1 z" fill="#7c5486"/>
<path d="M548.0 274.9 l1.8 2.1 h3 l1.8 -2.1 z" fill="#b08f35"/>
<text x="544.7" y="283.8" font-size="7.8" fill="#fff" textLength="11.3" lengthAdjust="spacingAndGlyphs" stroke="#fff" stroke-width=".22">call</text>
<rect x="560.3" y="277.2" width="66.4" height="8.2" rx="2" fill="#cdbad2"/>
<path d="M622.1 280.6 h2.6 l-1.3 1.7 z" fill="#7c5486"/>
<text x="562.3" y="283.5" font-size="7.8" fill="#141414" textLength="57.2" lengthAdjust="spacingAndGlyphs" stroke="#141414" stroke-width=".15">BluetoothClient1</text>
<text x="629.6" y="283.8" font-size="7.8" fill="#fff" textLength="63.1" lengthAdjust="spacingAndGlyphs" stroke="#fff" stroke-width=".22">.Send1ByteNumber</text>
<text x="668.3" y="295.6" font-size="7.8" fill="#fff" textLength="24.4" lengthAdjust="spacingAndGlyphs" stroke="#fff" stroke-width=".22">number</text>
<path d="M702.3 290.6 h-1.6 q-2.2 -0.4 -2 1.6 v2.2 q-0.2 2 2 1.6 h1.6 z" fill="#3f72b6"/>
<rect x="702.0" y="287.4" width="18.7" height="12.8" rx="1.6" fill="#3f72b6"/>
<path d="M702.4 299.2 V287.8 H720.2" fill="none" stroke="#7fa2d6" stroke-width=".7" opacity=".8"/>
<path d="M703.0 299.8 H720.4 V288.4" fill="none" stroke="#2d5389" stroke-width=".7" opacity=".75"/>
<rect x="705.2" y="289.5" width="12.1" height="8.2" rx="2" fill="#abc4e6"/>
<text x="707.2" y="295.8" font-size="7.8" fill="#141414" textLength="8.1" lengthAdjust="spacingAndGlyphs" stroke="#141414" stroke-width=".15">49</text>
<rect x="544.7" y="303.4" width="7.3" height="7.4" rx="1.3" fill="#2a2cae" stroke="#9aa0e8" stroke-width=".5"/>
<circle cx="548.4" cy="307.1" r="1.9" fill="none" stroke="#f4f0e4" stroke-width="1.15"/>
<text x="558.0" y="309.7" font-size="7.8" fill="#fff" textLength="4.0" lengthAdjust="spacingAndGlyphs" stroke="#fff" stroke-width=".22">if</text>
<text x="544.7" y="326.9" font-size="7.8" fill="#fff" textLength="14.3" lengthAdjust="spacingAndGlyphs" stroke="#fff" stroke-width=".22">then</text>
<path d="M579.8 303.6 h-1.6 q-2.2 -0.4 -2 1.6 v2.2 q-0.2 2 2 1.6 h1.6 z" fill="#3f72b6"/>
<rect x="579.5" y="300.4" width="232.5" height="18.3" rx="1.6" fill="#3f72b6"/>
<path d="M579.9 317.7 V300.8 H811.5" fill="none" stroke="#7fa2d6" stroke-width=".7" opacity=".8"/>
<path d="M580.5 318.3 H811.6 V301.4" fill="none" stroke="#2d5389" stroke-width=".7" opacity=".75"/>
<path d="M587.6 306.8 h-1.6 q-2.2 -0.4 -2 1.6 v2.2 q-0.2 2 2 1.6 h1.6 z" fill="#7c5486"/>
<rect x="587.3" y="303.6" width="178.9" height="12.3" rx="1.6" fill="#7c5486"/>
<path d="M587.6 314.9 V304.0 H765.7" fill="none" stroke="#a98db1" stroke-width=".7" opacity=".8"/>
<path d="M588.3 315.5 H765.9 V304.6" fill="none" stroke="#5a3c62" stroke-width=".7" opacity=".75"/>
<text x="592.7" y="312.3" font-size="7.8" fill="#fff" textLength="11.2" lengthAdjust="spacingAndGlyphs" stroke="#fff" stroke-width=".22">call</text>
<rect x="608.4" y="305.6" width="65.8" height="8.2" rx="2" fill="#cdbad2"/>
<path d="M669.6 309.0 h2.6 l-1.3 1.7 z" fill="#7c5486"/>
<text x="610.4" y="311.9" font-size="7.8" fill="#141414" textLength="56.6" lengthAdjust="spacingAndGlyphs" stroke="#141414" stroke-width=".15">BluetoothClient1</text>
<text x="677.1" y="312.3" font-size="7.8" fill="#fff" textLength="84.2" lengthAdjust="spacingAndGlyphs" stroke="#fff" stroke-width=".22">.BytesAvailableToReceive</text>
<rect x="769.1" y="305.6" width="16.6" height="8.0" rx="2" fill="#abc4e6"/>
<path d="M781.1 308.9 h2.6 l-1.3 1.7 z" fill="#3f72b6"/>
<text x="772.0" y="311.7" font-size="7.8" fill="#141414" textLength="4.5" lengthAdjust="spacingAndGlyphs" stroke="#141414" stroke-width=".15">&gt;</text>
<path d="M791.9 306.5 h-1.6 q-2.2 -0.4 -2 1.6 v2.2 q-0.2 2 2 1.6 h1.6 z" fill="#3f72b6"/>
<rect x="791.6" y="303.3" width="15.6" height="12.9" rx="1.6" fill="#3f72b6"/>
<path d="M792.0 315.2 V303.7 H806.7" fill="none" stroke="#7fa2d6" stroke-width=".7" opacity=".8"/>
<path d="M792.6 315.8 H806.9 V304.3" fill="none" stroke="#2d5389" stroke-width=".7" opacity=".75"/>
<rect x="790.4" y="302.1" width="18.0" height="15.3" fill="none" stroke="#7fa2d6" stroke-width=".6" stroke-dasharray="1 1"/>
<rect x="794.5" y="305.6" width="9.8" height="8.2" rx="2" fill="#abc4e6"/>
<text x="796.5" y="311.9" font-size="7.8" fill="#141414" textLength="5.8" lengthAdjust="spacingAndGlyphs" stroke="#141414" stroke-width=".15">0</text>
<rect x="564.8" y="318.4" width="80.7" height="25.4" rx="1.6" fill="#d0632f"/>
<path d="M565.1 342.8 V318.8 H645.0" fill="none" stroke="#e39a78" stroke-width=".7" opacity=".8"/>
<path d="M565.8 343.4 H645.1 V319.4" fill="none" stroke="#9c4821" stroke-width=".7" opacity=".75"/>
<path d="M572.8 343.6 l1.8 2.1 h3 l1.8 -2.1 z" fill="#d0632f"/>
<path d="M572.8 318.3 l1.8 2.1 h3 l1.8 -2.1 z" fill="#b08f35"/>
<text x="569.7" y="327.3" font-size="7.8" fill="#fff" textLength="8.8" lengthAdjust="spacingAndGlyphs" stroke="#fff" stroke-width=".22">set</text>
<rect x="582.0" y="321.4" width="45.9" height="8.4" rx="2" fill="#edb8a2"/>
<path d="M623.3 324.9 h2.6 l-1.3 1.7 z" fill="#d0632f"/>
<text x="584.0" y="327.9" font-size="7.8" fill="#141414" textLength="36.7" lengthAdjust="spacingAndGlyphs" stroke="#141414" stroke-width=".15">global text</text>
<text x="630.2" y="327.3" font-size="7.8" fill="#fff" textLength="5.8" lengthAdjust="spacingAndGlyphs" stroke="#fff" stroke-width=".22">to</text>
<path d="M645.8 322.2 h-1.6 q-2.2 -0.4 -2 1.6 v2.2 q-0.2 2 2 1.6 h1.6 z" fill="#7c5486"/>
<rect x="645.5" y="319.0" width="140.6" height="24.8" rx="1.6" fill="#7c5486"/>
<path d="M645.9 342.8 V319.4 H785.6" fill="none" stroke="#a98db1" stroke-width=".7" opacity=".8"/>
<path d="M646.5 343.4 H785.8 V320.0" fill="none" stroke="#5a3c62" stroke-width=".7" opacity=".75"/>
<text x="650.7" y="328.0" font-size="7.8" fill="#fff" textLength="11.2" lengthAdjust="spacingAndGlyphs" stroke="#fff" stroke-width=".22">call</text>
<rect x="666.4" y="321.4" width="66.2" height="8.3" rx="2" fill="#cdbad2"/>
<path d="M728.0 324.8 h2.6 l-1.3 1.7 z" fill="#7c5486"/>
<text x="668.4" y="327.8" font-size="7.8" fill="#141414" textLength="57.0" lengthAdjust="spacingAndGlyphs" stroke="#141414" stroke-width=".15">BluetoothClient1</text>
<text x="735.9" y="328.0" font-size="7.8" fill="#fff" textLength="41.4" lengthAdjust="spacingAndGlyphs" stroke="#fff" stroke-width=".22">.ReceiveText</text>
<text x="726.5" y="339.8" font-size="7.8" fill="#fff" textLength="50.8" lengthAdjust="spacingAndGlyphs" stroke="#fff" stroke-width=".22">numberOfBytes</text>
<path d="M786.3 334.7 h-1.6 q-2.2 -0.4 -2 1.6 v2.2 q-0.2 2 2 1.6 h1.6 z" fill="#3f72b6"/>
<rect x="786.0" y="331.5" width="15.0" height="12.3" rx="1.6" fill="#3f72b6"/>
<path d="M786.4 342.8 V331.9 H800.5" fill="none" stroke="#7fa2d6" stroke-width=".7" opacity=".8"/>
<path d="M787.0 343.4 H800.6 V332.5" fill="none" stroke="#2d5389" stroke-width=".7" opacity=".75"/>
<rect x="789.0" y="333.7" width="8.4" height="8.1" rx="2" fill="#abc4e6"/>
<text x="791.0" y="339.9" font-size="7.8" fill="#141414" textLength="4.4" lengthAdjust="spacingAndGlyphs" stroke="#141414" stroke-width=".15">1</text>
<rect x="569.7" y="347.2" width="7.3" height="7.4" rx="1.3" fill="#2a2cae" stroke="#9aa0e8" stroke-width=".5"/>
<circle cx="573.4" cy="350.9" r="1.9" fill="none" stroke="#f4f0e4" stroke-width="1.15"/>
<text x="582.8" y="353.5" font-size="7.8" fill="#fff" textLength="3.5" lengthAdjust="spacingAndGlyphs" stroke="#fff" stroke-width=".22">if</text>
<text x="569.7" y="370.7" font-size="7.8" fill="#fff" textLength="13.7" lengthAdjust="spacingAndGlyphs" stroke="#fff" stroke-width=".22">then</text>
<path d="M604.2 347.8 h-1.6 q-2.2 -0.4 -2 1.6 v2.2 q-0.2 2 2 1.6 h1.6 z" fill="#78ab42"/>
<rect x="603.9" y="344.6" width="135.9" height="17.4" rx="1.6" fill="#78ab42"/>
<path d="M604.2 361.0 V345.0 H739.3" fill="none" stroke="#a6cd7a" stroke-width=".7" opacity=".8"/>
<path d="M604.9 361.6 H739.4 V345.6" fill="none" stroke="#587e2f" stroke-width=".7" opacity=".75"/>
<path d="M612.3 350.9 h-1.6 q-2.2 -0.4 -2 1.6 v2.2 q-0.2 2 2 1.6 h1.6 z" fill="#d0632f"/>
<rect x="612.0" y="347.7" width="67.0" height="12.0" rx="1.6" fill="#d0632f"/>
<path d="M612.4 358.7 V348.1 H678.5" fill="none" stroke="#e39a78" stroke-width=".7" opacity=".8"/>
<path d="M613.0 359.3 H678.6 V348.7" fill="none" stroke="#9c4821" stroke-width=".7" opacity=".75"/>
<text x="617.0" y="356.2" font-size="7.8" fill="#fff" textLength="10.3" lengthAdjust="spacingAndGlyphs" stroke="#fff" stroke-width=".22">get</text>
<rect x="630.2" y="349.7" width="46.3" height="8.1" rx="2" fill="#edb8a2"/>
<path d="M671.9 353.1 h2.6 l-1.3 1.7 z" fill="#d0632f"/>
<text x="632.2" y="355.9" font-size="7.8" fill="#141414" textLength="37.1" lengthAdjust="spacingAndGlyphs" stroke="#141414" stroke-width=".15">global text</text>
<rect x="681.6" y="349.6" width="17.6" height="7.6" rx="2" fill="#c7dead"/>
<path d="M694.6 352.7 h2.6 l-1.3 1.7 z" fill="#78ab42"/>
<text x="685.0" y="355.3" font-size="7.8" fill="#141414" textLength="4.0" lengthAdjust="spacingAndGlyphs" stroke="#141414" stroke-width=".15">=</text>
<path d="M705.5 350.3 h-1.6 q-2.2 -0.4 -2 1.6 v2.2 q-0.2 2 2 1.6 h1.6 z" fill="#b52d5f"/>
<rect x="705.2" y="347.1" width="29.3" height="12.6" rx="1.6" fill="#b52d5f"/>
<path d="M705.6 358.7 V347.5 H734.0" fill="none" stroke="#d2749a" stroke-width=".7" opacity=".8"/>
<path d="M706.2 359.3 H734.1 V348.1" fill="none" stroke="#842046" stroke-width=".7" opacity=".75"/>
<path d="M710.5 351.0 v2 M712.0 351.0 v2" stroke="#fff" stroke-width=".9" opacity=".95"/>
<path d="M728.1 351.0 v2 M729.6 351.0 v2" stroke="#fff" stroke-width=".9" opacity=".95"/>
<rect x="715.0" y="349.4" width="8.6" height="8.1" rx="2" fill="#e4a9c0"/>
<text x="717.3" y="355.6" font-size="7.8" fill="#141414" textLength="4.0" lengthAdjust="spacingAndGlyphs" stroke="#141414" stroke-width=".15">a</text>
<rect x="589.8" y="362.4" width="98.1" height="18.6" rx="1.6" fill="#d0632f"/>
<path d="M590.1 380.0 V362.8 H687.4" fill="none" stroke="#e39a78" stroke-width=".7" opacity=".8"/>
<path d="M590.8 380.6 H687.5 V363.4" fill="none" stroke="#9c4821" stroke-width=".7" opacity=".75"/>
<path d="M597.8 380.8 l1.8 2.1 h3 l1.8 -2.1 z" fill="#d0632f"/>
<path d="M597.8 362.3 l1.8 2.1 h3 l1.8 -2.1 z" fill="#b08f35"/>
<text x="594.0" y="371.2" font-size="7.8" fill="#fff" textLength="9.9" lengthAdjust="spacingAndGlyphs" stroke="#fff" stroke-width=".22">set</text>
<rect x="606.4" y="365.0" width="62.9" height="8.3" rx="2" fill="#edb8a2"/>
<path d="M664.7 368.4 h2.6 l-1.3 1.7 z" fill="#d0632f"/>
<text x="608.4" y="371.4" font-size="7.8" fill="#141414" textLength="53.7" lengthAdjust="spacingAndGlyphs" stroke="#141414" stroke-width=".15">global number1</text>
<text x="671.8" y="371.2" font-size="7.8" fill="#fff" textLength="5.9" lengthAdjust="spacingAndGlyphs" stroke="#fff" stroke-width=".22">to</text>
<path d="M688.1 365.6 h-1.6 q-2.2 -0.4 -2 1.6 v2.2 q-0.2 2 2 1.6 h1.6 z" fill="#3f72b6"/>
<rect x="687.8" y="362.4" width="257.9" height="18.1" rx="1.6" fill="#3f72b6"/>
<path d="M688.1 379.5 V362.8 H945.2" fill="none" stroke="#7fa2d6" stroke-width=".7" opacity=".8"/>
<path d="M688.8 380.1 H945.4 V363.4" fill="none" stroke="#2d5389" stroke-width=".7" opacity=".75"/>
<rect x="692.1" y="365.7" width="8.0" height="7.9" rx="1.3" fill="#2a2cae" stroke="#9aa0e8" stroke-width=".5"/>
<circle cx="696.1" cy="369.6" r="1.9" fill="none" stroke="#f4f0e4" stroke-width="1.15"/>
<path d="M710.0 368.9 h-1.6 q-2.2 -0.4 -2 1.6 v2.2 q-0.2 2 2 1.6 h1.6 z" fill="#7c5486"/>
<rect x="709.7" y="365.7" width="190.3" height="12.4" rx="1.6" fill="#7c5486"/>
<path d="M710.1 377.1 V366.1 H899.5" fill="none" stroke="#a98db1" stroke-width=".7" opacity=".8"/>
<path d="M710.7 377.8 H899.6 V366.7" fill="none" stroke="#5a3c62" stroke-width=".7" opacity=".75"/>
<text x="714.6" y="374.3" font-size="7.8" fill="#fff" textLength="10.7" lengthAdjust="spacingAndGlyphs" stroke="#fff" stroke-width=".22">call</text>
<rect x="729.8" y="367.7" width="66.0" height="8.3" rx="2" fill="#cdbad2"/>
<path d="M791.2 371.2 h2.6 l-1.3 1.7 z" fill="#7c5486"/>
<text x="731.8" y="374.1" font-size="7.8" fill="#141414" textLength="56.8" lengthAdjust="spacingAndGlyphs" stroke="#141414" stroke-width=".15">BluetoothClient1</text>
<text x="798.8" y="374.3" font-size="7.8" fill="#fff" textLength="95.7" lengthAdjust="spacingAndGlyphs" stroke="#fff" stroke-width=".22">.ReceiveSigned1ByteNumber</text>
<text x="904.6" y="373.6" font-size="8" fill="#fff" textLength="4.4" lengthAdjust="spacingAndGlyphs" font-weight="bold" stroke="#fff" stroke-width=".22">×</text>
<path d="M917.6 369.0 h-1.6 q-2.2 -0.4 -2 1.6 v2.2 q-0.2 2 2 1.6 h1.6 z" fill="#3f72b6"/>
<rect x="917.3" y="365.8" width="23.5" height="12.5" rx="1.6" fill="#3f72b6"/>
<path d="M917.6 377.3 V366.2 H940.3" fill="none" stroke="#7fa2d6" stroke-width=".7" opacity=".8"/>
<path d="M918.3 377.9 H940.4 V366.8" fill="none" stroke="#2d5389" stroke-width=".7" opacity=".75"/>
<rect x="916.1" y="364.6" width="25.9" height="14.9" fill="none" stroke="#7fa2d6" stroke-width=".6" stroke-dasharray="1 1"/>
<rect x="919.9" y="367.9" width="16.6" height="8.2" rx="2" fill="#abc4e6"/>
<text x="921.9" y="374.2" font-size="7.8" fill="#141414" textLength="12.6" lengthAdjust="spacingAndGlyphs" stroke="#141414" stroke-width=".15">256</text>
<rect x="589.8" y="381.0" width="78.5" height="12.8" rx="1.6" fill="#d0632f"/>
<path d="M590.1 392.8 V381.4 H667.8" fill="none" stroke="#e39a78" stroke-width=".7" opacity=".8"/>
<path d="M590.8 393.4 H667.9 V382.0" fill="none" stroke="#9c4821" stroke-width=".7" opacity=".75"/>
<path d="M597.8 393.6 l1.8 2.1 h3 l1.8 -2.1 z" fill="#d0632f"/>
<text x="594.0" y="389.9" font-size="7.8" fill="#fff" textLength="9.9" lengthAdjust="spacingAndGlyphs" stroke="#fff" stroke-width=".22">set</text>
<rect x="606.4" y="383.2" width="45.9" height="8.3" rx="2" fill="#edb8a2"/>
<path d="M647.7 386.7 h2.6 l-1.3 1.7 z" fill="#d0632f"/>
<text x="608.4" y="389.6" font-size="7.8" fill="#141414" textLength="36.7" lengthAdjust="spacingAndGlyphs" stroke="#141414" stroke-width=".15">global text</text>
<text x="655.0" y="389.9" font-size="7.8" fill="#fff" textLength="5.5" lengthAdjust="spacingAndGlyphs" stroke="#fff" stroke-width=".22">to</text>
<path d="M670.6 384.5 h-1.6 q-2.2 -0.4 -2 1.6 v2.2 q-0.2 2 2 1.6 h1.6 z" fill="#7c5486"/>
<rect x="670.3" y="381.3" width="190.4" height="12.4" rx="1.6" fill="#7c5486"/>
<path d="M670.6 392.7 V381.7 H860.2" fill="none" stroke="#a98db1" stroke-width=".7" opacity=".8"/>
<path d="M671.3 393.3 H860.4 V382.3" fill="none" stroke="#5a3c62" stroke-width=".7" opacity=".75"/>
<text x="675.2" y="389.9" font-size="7.8" fill="#fff" textLength="11.6" lengthAdjust="spacingAndGlyphs" stroke="#fff" stroke-width=".22">call</text>
<rect x="691.1" y="383.4" width="66.0" height="8.2" rx="2" fill="#cdbad2"/>
<path d="M752.5 386.8 h2.6 l-1.3 1.7 z" fill="#7c5486"/>
<text x="693.1" y="389.7" font-size="7.8" fill="#141414" textLength="56.8" lengthAdjust="spacingAndGlyphs" stroke="#141414" stroke-width=".15">BluetoothClient1</text>
<text x="760.1" y="389.9" font-size="7.8" fill="#fff" textLength="95.7" lengthAdjust="spacingAndGlyphs" stroke="#fff" stroke-width=".22">.ReceiveSigned1ByteNumber</text>
<rect x="594.0" y="396.7" width="7.5" height="7.4" rx="1.3" fill="#2a2cae" stroke="#9aa0e8" stroke-width=".5"/>
<circle cx="597.8" cy="400.4" r="1.9" fill="none" stroke="#f4f0e4" stroke-width="1.15"/>
<text x="607.2" y="403.1" font-size="7.8" fill="#fff" textLength="3.5" lengthAdjust="spacingAndGlyphs" stroke="#fff" stroke-width=".22">if</text>
<text x="594.0" y="420.8" font-size="7.8" fill="#fff" textLength="13.8" lengthAdjust="spacingAndGlyphs" stroke="#fff" stroke-width=".22">then</text>
<path d="M628.6 397.9 h-1.6 q-2.2 -0.4 -2 1.6 v2.2 q-0.2 2 2 1.6 h1.6 z" fill="#3f72b6"/>
<rect x="628.3" y="394.7" width="121.0" height="16.9" rx="1.6" fill="#3f72b6"/>
<path d="M628.6 410.6 V395.1 H748.8" fill="none" stroke="#7fa2d6" stroke-width=".7" opacity=".8"/>
<path d="M629.3 411.2 H748.9 V395.7" fill="none" stroke="#2d5389" stroke-width=".7" opacity=".75"/>
<path d="M637.0 400.3 h-1.6 q-2.2 -0.4 -2 1.6 v2.2 q-0.2 2 2 1.6 h1.6 z" fill="#d0632f"/>
<rect x="636.7" y="397.1" width="67.3" height="11.8" rx="1.6" fill="#d0632f"/>
<path d="M637.1 407.9 V397.5 H703.5" fill="none" stroke="#e39a78" stroke-width=".7" opacity=".8"/>
<path d="M637.7 408.5 H703.6 V398.1" fill="none" stroke="#9c4821" stroke-width=".7" opacity=".75"/>
<text x="641.6" y="405.6" font-size="7.8" fill="#fff" textLength="10.1" lengthAdjust="spacingAndGlyphs" stroke="#fff" stroke-width=".22">get</text>
<rect x="654.6" y="399.0" width="46.9" height="8.1" rx="2" fill="#edb8a2"/>
<path d="M696.9 402.4 h2.6 l-1.3 1.7 z" fill="#d0632f"/>
<text x="656.6" y="405.2" font-size="7.8" fill="#141414" textLength="37.7" lengthAdjust="spacingAndGlyphs" stroke="#141414" stroke-width=".15">global text</text>
<rect x="706.4" y="398.9" width="17.0" height="7.5" rx="2" fill="#abc4e6"/>
<path d="M718.8 401.9 h2.6 l-1.3 1.7 z" fill="#3f72b6"/>
<text x="709.6" y="404.5" font-size="7.8" fill="#141414" textLength="4.0" lengthAdjust="spacingAndGlyphs" stroke="#141414" stroke-width=".15">&lt;</text>
<path d="M730.1 399.8 h-1.6 q-2.2 -0.4 -2 1.6 v2.2 q-0.2 2 2 1.6 h1.6 z" fill="#3f72b6"/>
<rect x="729.8" y="396.6" width="14.7" height="12.7" rx="1.6" fill="#3f72b6"/>
<path d="M730.1 408.3 V397.0 H744.0" fill="none" stroke="#7fa2d6" stroke-width=".7" opacity=".8"/>
<path d="M730.8 408.9 H744.1 V397.6" fill="none" stroke="#2d5389" stroke-width=".7" opacity=".75"/>
<rect x="728.6" y="395.4" width="17.1" height="15.1" fill="none" stroke="#7fa2d6" stroke-width=".6" stroke-dasharray="1 1"/>
<rect x="732.3" y="398.8" width="9.2" height="8.2" rx="2" fill="#abc4e6"/>
<text x="734.3" y="405.1" font-size="7.8" fill="#141414" textLength="5.2" lengthAdjust="spacingAndGlyphs" stroke="#141414" stroke-width=".15">0</text>
<rect x="614.2" y="411.4" width="80.8" height="18.9" rx="1.6" fill="#d0632f"/>
<path d="M614.6 429.3 V411.8 H694.5" fill="none" stroke="#e39a78" stroke-width=".7" opacity=".8"/>
<path d="M615.2 429.9 H694.6 V412.4" fill="none" stroke="#9c4821" stroke-width=".7" opacity=".75"/>
<path d="M622.2 430.1 l1.8 2.1 h3 l1.8 -2.1 z" fill="#d0632f"/>
<path d="M622.2 411.3 l1.8 2.1 h3 l1.8 -2.1 z" fill="#b08f35"/>
<text x="618.5" y="420.3" font-size="7.8" fill="#fff" textLength="9.8" lengthAdjust="spacingAndGlyphs" stroke="#fff" stroke-width=".22">set</text>
<rect x="630.8" y="414.0" width="46.3" height="8.3" rx="2" fill="#edb8a2"/>
<path d="M672.5 417.4 h2.6 l-1.3 1.7 z" fill="#d0632f"/>
<text x="632.8" y="420.4" font-size="7.8" fill="#141414" textLength="37.1" lengthAdjust="spacingAndGlyphs" stroke="#141414" stroke-width=".15">global text</text>
<text x="679.6" y="420.3" font-size="7.8" fill="#fff" textLength="5.9" lengthAdjust="spacingAndGlyphs" stroke="#fff" stroke-width=".22">to</text>
<path d="M695.3 415.4 h-1.6 q-2.2 -0.4 -2 1.6 v2.2 q-0.2 2 2 1.6 h1.6 z" fill="#3f72b6"/>
<rect x="695.0" y="412.2" width="134.4" height="18.2" rx="1.6" fill="#3f72b6"/>
<path d="M695.4 429.4 V412.6 H828.9" fill="none" stroke="#7fa2d6" stroke-width=".7" opacity=".8"/>
<path d="M696.0 430.0 H829.0 V413.2" fill="none" stroke="#2d5389" stroke-width=".7" opacity=".75"/>
<rect x="700.1" y="414.6" width="7.8" height="7.8" rx="1.3" fill="#2a2cae" stroke="#9aa0e8" stroke-width=".5"/>
<circle cx="704.0" cy="418.5" r="1.9" fill="none" stroke="#f4f0e4" stroke-width="1.15"/>
<path d="M717.4 418.7 h-1.6 q-2.2 -0.4 -2 1.6 v2.2 q-0.2 2 2 1.6 h1.6 z" fill="#d0632f"/>
<rect x="717.1" y="415.5" width="66.8" height="12.3" rx="1.6" fill="#d0632f"/>
<path d="M717.5 426.8 V415.9 H783.4" fill="none" stroke="#e39a78" stroke-width=".7" opacity=".8"/>
<path d="M718.1 427.4 H783.5 V416.5" fill="none" stroke="#9c4821" stroke-width=".7" opacity=".75"/>
<text x="721.6" y="424.1" font-size="7.8" fill="#fff" textLength="10.2" lengthAdjust="spacingAndGlyphs" stroke="#fff" stroke-width=".22">get</text>
<rect x="734.7" y="417.6" width="46.5" height="8.2" rx="2" fill="#edb8a2"/>
<path d="M776.6 421.0 h2.6 l-1.3 1.7 z" fill="#d0632f"/>
<text x="736.7" y="423.9" font-size="7.8" fill="#141414" textLength="37.3" lengthAdjust="spacingAndGlyphs" stroke="#141414" stroke-width=".15">global text</text>
<text x="788.6" y="423.6" font-size="8" fill="#fff" textLength="4.2" lengthAdjust="spacingAndGlyphs" font-weight="bold" stroke="#fff" stroke-width=".22">+</text>
<path d="M801.8 418.8 h-1.6 q-2.2 -0.4 -2 1.6 v2.2 q-0.2 2 2 1.6 h1.6 z" fill="#3f72b6"/>
<rect x="801.5" y="415.6" width="23.0" height="12.5" rx="1.6" fill="#3f72b6"/>
<path d="M801.9 427.1 V416.0 H824.0" fill="none" stroke="#7fa2d6" stroke-width=".7" opacity=".8"/>
<path d="M802.5 427.8 H824.1 V416.6" fill="none" stroke="#2d5389" stroke-width=".7" opacity=".75"/>
<rect x="800.3" y="414.4" width="25.4" height="14.9" fill="none" stroke="#7fa2d6" stroke-width=".6" stroke-dasharray="1 1"/>
<rect x="804.0" y="417.7" width="17.0" height="8.2" rx="2" fill="#abc4e6"/>
<text x="806.0" y="424.0" font-size="7.8" fill="#141414" textLength="13.0" lengthAdjust="spacingAndGlyphs" stroke="#141414" stroke-width=".15">256</text>
<rect x="589.8" y="437.3" width="98.1" height="17.0" rx="1.6" fill="#d0632f"/>
<path d="M590.1 453.3 V437.7 H687.4" fill="none" stroke="#e39a78" stroke-width=".7" opacity=".8"/>
<path d="M590.8 453.9 H687.5 V438.3" fill="none" stroke="#9c4821" stroke-width=".7" opacity=".75"/>
<path d="M597.8 454.1 l1.8 2.1 h3 l1.8 -2.1 z" fill="#d0632f"/>
<text x="594.0" y="445.2" font-size="7.8" fill="#fff" textLength="9.9" lengthAdjust="spacingAndGlyphs" stroke="#fff" stroke-width=".22">set</text>
<rect x="606.4" y="439.7" width="62.9" height="8.3" rx="2" fill="#edb8a2"/>
<path d="M664.7 443.2 h2.6 l-1.3 1.7 z" fill="#d0632f"/>
<text x="608.4" y="446.1" font-size="7.8" fill="#141414" textLength="53.7" lengthAdjust="spacingAndGlyphs" stroke="#141414" stroke-width=".15">global number1</text>
<text x="671.8" y="445.2" font-size="7.8" fill="#fff" textLength="5.9" lengthAdjust="spacingAndGlyphs" stroke="#fff" stroke-width=".22">to</text>
<path d="M688.1 440.2 h-1.6 q-2.2 -0.4 -2 1.6 v2.2 q-0.2 2 2 1.6 h1.6 z" fill="#3f72b6"/>
<rect x="687.8" y="437.0" width="195.0" height="18.0" rx="1.6" fill="#3f72b6"/>
<path d="M688.1 454.0 V437.4 H882.3" fill="none" stroke="#7fa2d6" stroke-width=".7" opacity=".8"/>
<path d="M688.8 454.6 H882.4 V438.0" fill="none" stroke="#2d5389" stroke-width=".7" opacity=".75"/>
<rect x="692.1" y="440.0" width="8.0" height="7.8" rx="1.3" fill="#2a2cae" stroke="#9aa0e8" stroke-width=".5"/>
<circle cx="696.1" cy="443.9" r="1.9" fill="none" stroke="#f4f0e4" stroke-width="1.15"/>
<path d="M709.6 443.6 h-1.6 q-2.2 -0.4 -2 1.6 v2.2 q-0.2 2 2 1.6 h1.6 z" fill="#d0632f"/>
<rect x="709.3" y="440.4" width="66.8" height="12.4" rx="1.6" fill="#d0632f"/>
<path d="M709.6 451.8 V440.8 H775.6" fill="none" stroke="#e39a78" stroke-width=".7" opacity=".8"/>
<path d="M710.3 452.4 H775.8 V441.4" fill="none" stroke="#9c4821" stroke-width=".7" opacity=".75"/>
<text x="713.6" y="449.1" font-size="7.8" fill="#fff" textLength="10.9" lengthAdjust="spacingAndGlyphs" stroke="#fff" stroke-width=".22">get</text>
<rect x="727.5" y="442.5" width="45.9" height="8.2" rx="2" fill="#edb8a2"/>
<path d="M768.8 445.9 h2.6 l-1.3 1.7 z" fill="#d0632f"/>
<text x="729.5" y="448.8" font-size="7.8" fill="#141414" textLength="36.7" lengthAdjust="spacingAndGlyphs" stroke="#141414" stroke-width=".15">global text</text>
<text x="781.4" y="448.6" font-size="8" fill="#fff" textLength="4.2" lengthAdjust="spacingAndGlyphs" font-weight="bold" stroke="#fff" stroke-width=".22">+</text>
<path d="M794.0 443.6 h-1.6 q-2.2 -0.4 -2 1.6 v2.2 q-0.2 2 2 1.6 h1.6 z" fill="#d0632f"/>
<rect x="793.7" y="440.4" width="84.0" height="12.4" rx="1.6" fill="#d0632f"/>
<path d="M794.1 451.8 V440.8 H877.2" fill="none" stroke="#e39a78" stroke-width=".7" opacity=".8"/>
<path d="M794.7 452.4 H877.4 V441.4" fill="none" stroke="#9c4821" stroke-width=".7" opacity=".75"/>
<text x="798.2" y="449.1" font-size="7.8" fill="#fff" textLength="10.7" lengthAdjust="spacingAndGlyphs" stroke="#fff" stroke-width=".22">get</text>
<rect x="811.8" y="442.5" width="62.5" height="8.2" rx="2" fill="#edb8a2"/>
<path d="M869.7 445.9 h2.6 l-1.3 1.7 z" fill="#d0632f"/>
<text x="813.8" y="448.8" font-size="7.8" fill="#141414" textLength="53.3" lengthAdjust="spacingAndGlyphs" stroke="#141414" stroke-width=".15">global number1</text>
<rect x="564.8" y="462.0" width="160.0" height="12.0" rx="1.6" fill="#256642"/>
<path d="M565.1 473.0 V462.4 H724.3" fill="none" stroke="#6a9a82" stroke-width=".7" opacity=".8"/>
<path d="M565.8 473.6 H724.4 V463.0" fill="none" stroke="#1a4a30" stroke-width=".7" opacity=".75"/>
<path d="M572.8 473.8 l1.8 2.1 h3 l1.8 -2.1 z" fill="#256642"/>
<text x="569.7" y="470.7" font-size="7.8" fill="#fff" textLength="9.3" lengthAdjust="spacingAndGlyphs" stroke="#fff" stroke-width=".22">set</text>
<rect x="583.8" y="464.1" width="87.5" height="8.2" rx="2" fill="#a3c3b3"/>
<path d="M666.7 467.5 h2.6 l-1.3 1.7 z" fill="#256642"/>
<text x="585.8" y="470.4" font-size="7.8" fill="#141414" textLength="78.3" lengthAdjust="spacingAndGlyphs" stroke="#141414" stroke-width=".15">Start_Position_Number</text>
<text x="674.6" y="470.7" font-size="7.8" fill="#fff" textLength="1.8" lengthAdjust="spacingAndGlyphs" stroke="#fff" stroke-width=".22">.</text>
<rect x="679.6" y="464.1" width="25.2" height="8.2" rx="2" fill="#a3c3b3"/>
<path d="M700.2 467.5 h2.6 l-1.3 1.7 z" fill="#256642"/>
<text x="681.6" y="470.4" font-size="7.8" fill="#141414" textLength="16.0" lengthAdjust="spacingAndGlyphs" stroke="#141414" stroke-width=".15">Text</text>
<text x="709.7" y="470.7" font-size="7.8" fill="#fff" textLength="6.9" lengthAdjust="spacingAndGlyphs" stroke="#fff" stroke-width=".22">to</text>
<path d="M725.1 465.0 h-1.6 q-2.2 -0.4 -2 1.6 v2.2 q-0.2 2 2 1.6 h1.6 z" fill="#d0632f"/>
<rect x="724.8" y="461.8" width="84.8" height="12.6" rx="1.6" fill="#d0632f"/>
<path d="M725.1 473.4 V462.2 H809.1" fill="none" stroke="#e39a78" stroke-width=".7" opacity=".8"/>
<path d="M725.8 474.0 H809.2 V462.8" fill="none" stroke="#9c4821" stroke-width=".7" opacity=".75"/>
<text x="730.3" y="470.7" font-size="7.8" fill="#fff" textLength="9.7" lengthAdjust="spacingAndGlyphs" stroke="#fff" stroke-width=".22">get</text>
<rect x="743.6" y="464.0" width="62.1" height="8.2" rx="2" fill="#edb8a2"/>
<path d="M801.1 467.4 h2.6 l-1.3 1.7 z" fill="#d0632f"/>
<text x="745.6" y="470.3" font-size="7.8" fill="#141414" textLength="52.9" lengthAdjust="spacingAndGlyphs" stroke="#141414" stroke-width=".15">global number1</text>
<rect x="540.0" y="481.1" width="98.0" height="12.4" rx="1.6" fill="#d0632f"/>
<path d="M540.4 492.5 V481.5 H637.5" fill="none" stroke="#e39a78" stroke-width=".7" opacity=".8"/>
<path d="M541.0 493.1 H637.6 V482.1" fill="none" stroke="#9c4821" stroke-width=".7" opacity=".75"/>
<path d="M548.0 493.3 l1.8 2.1 h3 l1.8 -2.1 z" fill="#d0632f"/>
<text x="544.7" y="490.0" font-size="7.8" fill="#fff" textLength="9.9" lengthAdjust="spacingAndGlyphs" stroke="#fff" stroke-width=".22">set</text>
<rect x="557.6" y="483.3" width="62.5" height="8.2" rx="2" fill="#edb8a2"/>
<path d="M615.5 486.7 h2.6 l-1.3 1.7 z" fill="#d0632f"/>
<text x="559.6" y="489.6" font-size="7.8" fill="#141414" textLength="53.3" lengthAdjust="spacingAndGlyphs" stroke="#141414" stroke-width=".15">global number1</text>
<text x="622.8" y="490.0" font-size="7.8" fill="#fff" textLength="5.5" lengthAdjust="spacingAndGlyphs" stroke="#fff" stroke-width=".22">to</text>
<path d="M638.3 484.3 h-1.6 q-2.2 -0.4 -2 1.6 v2.2 q-0.2 2 2 1.6 h1.6 z" fill="#3f72b6"/>
<rect x="638.0" y="481.1" width="14.7" height="12.4" rx="1.6" fill="#3f72b6"/>
<path d="M638.4 492.5 V481.5 H652.2" fill="none" stroke="#7fa2d6" stroke-width=".7" opacity=".8"/>
<path d="M639.0 493.1 H652.4 V482.1" fill="none" stroke="#2d5389" stroke-width=".7" opacity=".75"/>
<rect x="641.4" y="483.3" width="8.4" height="8.2" rx="2" fill="#abc4e6"/>
<text x="643.4" y="489.6" font-size="7.8" fill="#141414" textLength="4.4" lengthAdjust="spacingAndGlyphs" stroke="#141414" stroke-width=".15">0</text>
<rect x="180.0" y="362.2" width="25.0" height="12.4" rx="1.6" fill="#256642"/>
<path d="M180.3 373.6 V362.6 H204.5" fill="none" stroke="#6a9a82" stroke-width=".7" opacity=".8"/>
<path d="M181.0 374.2 H204.7 V363.2" fill="none" stroke="#1a4a30" stroke-width=".7" opacity=".75"/>
<text x="190.6" y="371.0" font-size="7.8" fill="#fff" textLength="6.0" lengthAdjust="spacingAndGlyphs" stroke="#fff" stroke-width=".22">to</text>
<path d="M205.3 365.4 h-1.6 q-2.2 -0.4 -2 1.6 v2.2 q-0.2 2 2 1.6 h1.6 z" fill="#78ab42"/>
<rect x="205.0" y="362.2" width="34.2" height="12.4" rx="1.6" fill="#78ab42"/>
<path d="M205.3 373.6 V362.6 H238.7" fill="none" stroke="#a6cd7a" stroke-width=".7" opacity=".8"/>
<path d="M206.0 374.2 H238.8 V363.2" fill="none" stroke="#587e2f" stroke-width=".7" opacity=".75"/>
<rect x="208.0" y="364.2" width="28.3" height="8.2" rx="2" fill="#c7dead"/>
<path d="M231.7 367.6 h2.6 l-1.3 1.7 z" fill="#78ab42"/>
<text x="210.0" y="370.5" font-size="7.8" fill="#141414" textLength="19.1" lengthAdjust="spacingAndGlyphs" stroke="#141414" stroke-width=".15">false</text>
<rect x="180.0" y="406.1" width="46.1" height="12.1" rx="1.6" fill="#256642"/>
<path d="M180.3 417.2 V406.5 H225.6" fill="none" stroke="#6a9a82" stroke-width=".7" opacity=".8"/>
<path d="M181.0 417.8 H225.8 V407.1" fill="none" stroke="#1a4a30" stroke-width=".7" opacity=".75"/>
<rect x="180.0" y="408.3" width="26.0" height="8.1" rx="2" fill="#a3c3b3"/>
<path d="M201.4 411.7 h2.6 l-1.3 1.7 z" fill="#256642"/>
<text x="189.0" y="414.6" font-size="7.8" fill="#222" textLength="6.0" lengthAdjust="spacingAndGlyphs" stroke="#222" stroke-width=".15">e</text>
<text x="210.9" y="414.9" font-size="7.8" fill="#fff" textLength="5.9" lengthAdjust="spacingAndGlyphs" stroke="#fff" stroke-width=".22">to</text>
<path d="M226.4 409.3 h-1.6 q-2.2 -0.4 -2 1.6 v2.2 q-0.2 2 2 1.6 h1.6 z" fill="#78ab42"/>
<rect x="226.1" y="406.1" width="34.2" height="12.1" rx="1.6" fill="#78ab42"/>
<path d="M226.4 417.2 V406.5 H259.8" fill="none" stroke="#a6cd7a" stroke-width=".7" opacity=".8"/>
<path d="M227.1 417.8 H259.9 V407.1" fill="none" stroke="#587e2f" stroke-width=".7" opacity=".75"/>
<rect x="229.0" y="408.3" width="28.4" height="8.1" rx="2" fill="#c7dead"/>
<path d="M252.8 411.7 h2.6 l-1.3 1.7 z" fill="#78ab42"/>
<text x="231.0" y="414.5" font-size="7.8" fill="#141414" textLength="19.2" lengthAdjust="spacingAndGlyphs" stroke="#141414" stroke-width=".15">false</text>
<rect x="180.0" y="418.4" width="46.1" height="12.3" rx="1.6" fill="#256642"/>
<path d="M180.3 429.7 V418.8 H225.6" fill="none" stroke="#6a9a82" stroke-width=".7" opacity=".8"/>
<path d="M181.0 430.3 H225.8 V419.4" fill="none" stroke="#1a4a30" stroke-width=".7" opacity=".75"/>
<rect x="180.0" y="420.6" width="26.0" height="8.1" rx="2" fill="#a3c3b3"/>
<path d="M201.4 423.9 h2.6 l-1.3 1.7 z" fill="#256642"/>
<text x="189.0" y="426.9" font-size="7.8" fill="#222" textLength="6.0" lengthAdjust="spacingAndGlyphs" stroke="#222" stroke-width=".15">e</text>
<text x="210.9" y="427.2" font-size="7.8" fill="#fff" textLength="5.9" lengthAdjust="spacingAndGlyphs" stroke="#fff" stroke-width=".22">to</text>
<path d="M226.4 421.6 h-1.6 q-2.2 -0.4 -2 1.6 v2.2 q-0.2 2 2 1.6 h1.6 z" fill="#78ab42"/>
<rect x="226.1" y="418.4" width="31.3" height="12.3" rx="1.6" fill="#78ab42"/>
<path d="M226.4 429.7 V418.8 H256.9" fill="none" stroke="#a6cd7a" stroke-width=".7" opacity=".8"/>
<path d="M227.1 430.3 H257.0 V419.4" fill="none" stroke="#587e2f" stroke-width=".7" opacity=".75"/>
<rect x="229.0" y="420.6" width="25.5" height="8.1" rx="2" fill="#c7dead"/>
<path d="M249.9 423.9 h2.6 l-1.3 1.7 z" fill="#78ab42"/>
<text x="231.0" y="426.8" font-size="7.8" fill="#141414" textLength="16.3" lengthAdjust="spacingAndGlyphs" stroke="#141414" stroke-width=".15">true</text>
<rect x="180.0" y="431.6" width="122.9" height="17.3" rx="1.6" fill="#78ab42"/>
<path d="M180.3 447.9 V432.0 H302.4" fill="none" stroke="#a6cd7a" stroke-width=".7" opacity=".8"/>
<path d="M181.0 448.5 H302.5 V432.6" fill="none" stroke="#587e2f" stroke-width=".7" opacity=".75"/>
<rect x="180.0" y="434.1" width="61.2" height="12.4" rx="1.6" fill="#439970"/>
<path d="M180.3 445.5 V434.5 H240.7" fill="none" stroke="#7fc0a2" stroke-width=".7" opacity=".8"/>
<path d="M181.0 446.1 H240.8 V435.1" fill="none" stroke="#307052" stroke-width=".7" opacity=".75"/>
<rect x="180.0" y="436.2" width="19.0" height="8.2" rx="2" fill="#b3d8c6"/>
<text x="200.2" y="443.0" font-size="7.8" fill="#fff" textLength="1.6" lengthAdjust="spacingAndGlyphs" stroke="#fff" stroke-width=".22">.</text>
<rect x="203.3" y="436.2" width="34.6" height="8.2" rx="2" fill="#b3d8c6"/>
<path d="M233.3 439.6 h2.6 l-1.3 1.7 z" fill="#439970"/>
<text x="205.3" y="442.5" font-size="7.8" fill="#141414" textLength="25.4" lengthAdjust="spacingAndGlyphs" stroke="#141414" stroke-width=".15">Visible</text>
<rect x="243.1" y="436.0" width="17.2" height="8.0" rx="2" fill="#c7dead"/>
<path d="M255.7 439.3 h2.6 l-1.3 1.7 z" fill="#78ab42"/>
<text x="246.5" y="442.1" font-size="7.8" fill="#141414" textLength="4.0" lengthAdjust="spacingAndGlyphs" stroke="#141414" stroke-width=".15">=</text>
<rect x="266.2" y="433.8" width="31.8" height="12.9" rx="1.6" fill="#78ab42"/>
<path d="M266.6 445.7 V434.2 H297.5" fill="none" stroke="#a6cd7a" stroke-width=".7" opacity=".8"/>
<path d="M267.2 446.3 H297.6 V434.8" fill="none" stroke="#587e2f" stroke-width=".7" opacity=".75"/>
<rect x="265.0" y="432.6" width="34.2" height="15.3" fill="none" stroke="#a6cd7a" stroke-width=".6" stroke-dasharray="1 1"/>
<rect x="269.1" y="436.1" width="25.4" height="8.2" rx="2" fill="#c7dead"/>
<path d="M289.9 439.5 h2.6 l-1.3 1.7 z" fill="#78ab42"/>
<text x="271.1" y="442.4" font-size="7.8" fill="#141414" textLength="16.2" lengthAdjust="spacingAndGlyphs" stroke="#141414" stroke-width=".15">true</text>
<rect x="180.0" y="449.7" width="46.1" height="12.8" rx="1.6" fill="#256642"/>
<path d="M180.3 461.5 V450.1 H225.6" fill="none" stroke="#6a9a82" stroke-width=".7" opacity=".8"/>
<path d="M181.0 462.1 H225.8 V450.7" fill="none" stroke="#1a4a30" stroke-width=".7" opacity=".75"/>
<rect x="180.0" y="451.8" width="25.6" height="8.2" rx="2" fill="#a3c3b3"/>
<path d="M201.0 455.2 h2.6 l-1.3 1.7 z" fill="#256642"/>
<text x="189.5" y="458.2" font-size="7.8" fill="#222" textLength="5.5" lengthAdjust="spacingAndGlyphs" stroke="#222" stroke-width=".15">s</text>
<text x="210.9" y="458.5" font-size="7.8" fill="#fff" textLength="5.9" lengthAdjust="spacingAndGlyphs" stroke="#fff" stroke-width=".22">to</text>
<path d="M226.4 452.9 h-1.6 q-2.2 -0.4 -2 1.6 v2.2 q-0.2 2 2 1.6 h1.6 z" fill="#439970"/>
<rect x="226.1" y="449.7" width="162.1" height="12.8" rx="1.6" fill="#439970"/>
<path d="M226.4 461.5 V450.1 H387.7" fill="none" stroke="#7fc0a2" stroke-width=".7" opacity=".8"/>
<path d="M227.1 462.1 H387.8 V450.7" fill="none" stroke="#307052" stroke-width=".7" opacity=".75"/>
<rect x="228.1" y="451.8" width="66.4" height="8.2" rx="2" fill="#b3d8c6"/>
<path d="M289.9 455.2 h2.6 l-1.3 1.7 z" fill="#439970"/>
<text x="230.1" y="458.1" font-size="7.8" fill="#141414" textLength="57.2" lengthAdjust="spacingAndGlyphs" stroke="#141414" stroke-width=".15">BluetoothClient1</text>
<text x="297.6" y="458.5" font-size="7.8" fill="#fff" textLength="1.6" lengthAdjust="spacingAndGlyphs" stroke="#fff" stroke-width=".22">.</text>
<rect x="301.7" y="451.8" width="83.6" height="8.2" rx="2" fill="#b3d8c6"/>
<path d="M380.7 455.2 h2.6 l-1.3 1.7 z" fill="#439970"/>
<text x="303.7" y="458.1" font-size="7.8" fill="#141414" textLength="74.4" lengthAdjust="spacingAndGlyphs" stroke="#141414" stroke-width=".15">AddressesAndNames</text>
<rect x="180.0" y="462.4" width="16.0" height="13.6" rx="1.6" fill="#256642"/>
<path d="M180.3 475.0 V462.8 H195.5" fill="none" stroke="#6a9a82" stroke-width=".7" opacity=".8"/>
<path d="M181.0 475.6 H195.7 V463.4" fill="none" stroke="#1a4a30" stroke-width=".7" opacity=".75"/>
<path d="M196.3 466.0 h-1.6 q-2.2 -0.4 -2 1.6 v2.2 q-0.2 2 2 1.6 h1.6 z" fill="#b52d5f"/>
<rect x="196.0" y="462.8" width="90.9" height="13.0" rx="1.6" fill="#b52d5f"/>
<path d="M196.3 474.8 V463.2 H286.4" fill="none" stroke="#d2749a" stroke-width=".7" opacity=".8"/>
<path d="M197.0 475.4 H286.5 V463.8" fill="none" stroke="#842046" stroke-width=".7" opacity=".75"/>
<path d="M200.0 466.9 v2 M201.5 466.9 v2" stroke="#fff" stroke-width=".9" opacity=".95"/>
<path d="M279.1 466.9 v2 M280.6 466.9 v2" stroke="#fff" stroke-width=".9" opacity=".95"/>
<rect x="205.2" y="465.0" width="70.3" height="8.3" rx="2" fill="#e4a9c0"/>
<text x="207.2" y="471.4" font-size="7.8" fill="#141414" textLength="66.3" lengthAdjust="spacingAndGlyphs" stroke="#141414" stroke-width=".15">Connect your device</text>
<rect x="180.0" y="510.0" width="17.0" height="52.0" rx="1.6" fill="#256642"/>
<path d="M180.3 561.0 V510.4 H196.5" fill="none" stroke="#6a9a82" stroke-width=".7" opacity=".8"/>
<path d="M181.0 561.6 H196.7 V511.0" fill="none" stroke="#1a4a30" stroke-width=".7" opacity=".75"/>
<path d="M197.1 513.9 h-1.6 q-2.2 -0.4 -2 1.6 v2.2 q-0.2 2 2 1.6 h1.6 z" fill="#7c5486"/>
<rect x="196.8" y="510.7" width="128.2" height="24.9" rx="1.6" fill="#7c5486"/>
<path d="M197.2 534.6 V511.1 H324.5" fill="none" stroke="#a98db1" stroke-width=".7" opacity=".8"/>
<path d="M197.8 535.2 H324.6 V511.7" fill="none" stroke="#5a3c62" stroke-width=".7" opacity=".75"/>
<text x="202.2" y="519.2" font-size="7.8" fill="#fff" textLength="11.0" lengthAdjust="spacingAndGlyphs" stroke="#fff" stroke-width=".22">call</text>
<rect x="218.1" y="512.8" width="65.9" height="8.2" rx="2" fill="#cdbad2"/>
<path d="M279.4 516.2 h2.6 l-1.3 1.7 z" fill="#7c5486"/>
<text x="220.1" y="519.1" font-size="7.8" fill="#141414" textLength="56.7" lengthAdjust="spacingAndGlyphs" stroke="#141414" stroke-width=".15">BluetoothClient1</text>
<text x="286.9" y="519.2" font-size="7.8" fill="#fff" textLength="29.6" lengthAdjust="spacingAndGlyphs" stroke="#fff" stroke-width=".22">.Connect</text>
<text x="290.1" y="531.5" font-size="7.8" fill="#fff" textLength="26.4" lengthAdjust="spacingAndGlyphs" stroke="#fff" stroke-width=".22">address</text>
<path d="M325.3 526.1 h-1.6 q-2.2 -0.4 -2 1.6 v2.2 q-0.2 2 2 1.6 h1.6 z" fill="#439970"/>
<rect x="325.0" y="522.9" width="104.7" height="12.7" rx="1.6" fill="#439970"/>
<path d="M325.4 534.6 V523.2 H429.2" fill="none" stroke="#7fc0a2" stroke-width=".7" opacity=".8"/>
<path d="M326.0 535.2 H429.3 V523.9" fill="none" stroke="#307052" stroke-width=".7" opacity=".75"/>
<rect x="327.9" y="525.0" width="48.9" height="8.2" rx="2" fill="#b3d8c6"/>
<path d="M372.2 528.4 h2.6 l-1.3 1.7 z" fill="#439970"/>
<text x="329.9" y="531.3" font-size="7.8" fill="#141414" textLength="39.7" lengthAdjust="spacingAndGlyphs" stroke="#141414" stroke-width=".15">ListPicker1</text>
<text x="379.6" y="531.6" font-size="7.8" fill="#fff" textLength="1.6" lengthAdjust="spacingAndGlyphs" stroke="#fff" stroke-width=".22">.</text>
<rect x="383.6" y="525.0" width="42.7" height="8.2" rx="2" fill="#b3d8c6"/>
<path d="M421.7 528.4 h2.6 l-1.3 1.7 z" fill="#439970"/>
<text x="385.6" y="531.3" font-size="7.8" fill="#141414" textLength="33.5" lengthAdjust="spacingAndGlyphs" stroke="#141414" stroke-width=".15">Selection</text>
<rect x="180.0" y="536.8" width="47.4" height="12.3" rx="1.6" fill="#b52d5f"/>
<path d="M180.3 548.1 V537.1 H226.9" fill="none" stroke="#d2749a" stroke-width=".7" opacity=".8"/>
<path d="M181.0 548.8 H227.1 V537.8" fill="none" stroke="#842046" stroke-width=".7" opacity=".75"/>
<rect x="180.0" y="539.0" width="35.6" height="8.2" rx="2" fill="#e4a9c0"/>
<text x="193.5" y="545.3" font-size="7.8" fill="#141414" textLength="20.0" lengthAdjust="spacingAndGlyphs" stroke="#141414" stroke-width=".15">nected</text>
<path d="M219.8 540.6 v2 M221.3 540.6 v2" stroke="#fff" stroke-width=".9" opacity=".95"/>
<path d="M400.5 540.6 v2 M402.0 540.6 v2" stroke="#fff" stroke-width=".9" opacity=".95"/>
<path d="M198.8 552.3 h-1.6 q-2.2 -0.4 -2 1.6 v2.2 q-0.2 2 2 1.6 h1.6 z" fill="#78ab42"/>
<rect x="198.5" y="549.1" width="31.8" height="12.7" rx="1.6" fill="#78ab42"/>
<path d="M198.8 560.8 V549.5 H229.8" fill="none" stroke="#a6cd7a" stroke-width=".7" opacity=".8"/>
<path d="M199.5 561.4 H230.0 V550.1" fill="none" stroke="#587e2f" stroke-width=".7" opacity=".75"/>
<rect x="201.5" y="551.2" width="25.1" height="8.2" rx="2" fill="#c7dead"/>
<path d="M222.0 554.6 h2.6 l-1.3 1.7 z" fill="#78ab42"/>
<text x="203.5" y="557.5" font-size="7.8" fill="#141414" textLength="15.9" lengthAdjust="spacingAndGlyphs" stroke="#141414" stroke-width=".15">true</text>
<rect x="180.0" y="604.8" width="56.0" height="12.5" rx="1.6" fill="#b52d5f"/>
<path d="M180.3 616.3 V605.1 H235.5" fill="none" stroke="#d2749a" stroke-width=".7" opacity=".8"/>
<path d="M181.0 616.9 H235.7 V605.8" fill="none" stroke="#842046" stroke-width=".7" opacity=".75"/>
<rect x="180.0" y="607.0" width="43.8" height="8.2" rx="2" fill="#e4a9c0"/>
<text x="194.0" y="613.3" font-size="7.8" fill="#141414" textLength="27.5" lengthAdjust="spacingAndGlyphs" stroke="#141414" stroke-width=".15">onnected</text>
<path d="M228.7 608.7 v2 M230.2 608.7 v2" stroke="#fff" stroke-width=".9" opacity=".95"/>
<path d="M400.5 608.7 v2 M402.0 608.7 v2" stroke="#fff" stroke-width=".9" opacity=".95"/>
<rect x="180.0" y="643.1" width="89.8" height="17.9" rx="1.6" fill="#78ab42"/>
<path d="M180.3 660.0 V643.5 H269.3" fill="none" stroke="#a6cd7a" stroke-width=".7" opacity=".8"/>
<path d="M181.0 660.6 H269.4 V644.1" fill="none" stroke="#587e2f" stroke-width=".7" opacity=".75"/>
<rect x="180.0" y="647.2" width="17.0" height="9.0" rx="2" fill="#c7dead"/>
<path d="M204.3 649.3 h-1.6 q-2.2 -0.4 -2 1.6 v2.2 q-0.2 2 2 1.6 h1.6 z" fill="#b52d5f"/>
<rect x="204.0" y="646.1" width="60.6" height="12.5" rx="1.6" fill="#b52d5f"/>
<path d="M204.3 657.6 V646.5 H264.1" fill="none" stroke="#d2749a" stroke-width=".7" opacity=".8"/>
<path d="M205.0 658.2 H264.2 V647.1" fill="none" stroke="#842046" stroke-width=".7" opacity=".75"/>
<path d="M209.9 650.0 v2 M211.4 650.0 v2" stroke="#fff" stroke-width=".9" opacity=".95"/>
<path d="M257.7 650.0 v2 M259.2 650.0 v2" stroke="#fff" stroke-width=".9" opacity=".95"/>
<rect x="214.3" y="648.3" width="40.0" height="8.2" rx="2" fill="#e4a9c0"/>
<text x="216.3" y="654.6" font-size="7.8" fill="#141414" textLength="36.0" lengthAdjust="spacingAndGlyphs" stroke="#141414" stroke-width=".15">Connected</text>
<rect x="180.0" y="661.7" width="68.4" height="12.4" rx="1.6" fill="#b52d5f"/>
<path d="M180.3 673.1 V662.1 H247.9" fill="none" stroke="#d2749a" stroke-width=".7" opacity=".8"/>
<path d="M181.0 673.8 H248.1 V662.7" fill="none" stroke="#842046" stroke-width=".7" opacity=".75"/>
<path d="M194.1 665.7 v2 M195.6 665.7 v2" stroke="#fff" stroke-width=".9" opacity=".95"/>
<path d="M240.9 665.7 v2 M242.4 665.7 v2" stroke="#fff" stroke-width=".9" opacity=".95"/>
<rect x="198.7" y="663.9" width="38.9" height="8.2" rx="2" fill="#e4a9c0"/>
<text x="200.7" y="670.2" font-size="7.8" fill="#141414" textLength="34.9" lengthAdjust="spacingAndGlyphs" stroke="#141414" stroke-width=".15">Connected</text>
<rect x="180.0" y="681.5" width="41.0" height="24.7" rx="1.6" fill="#256642"/>
<path d="M180.3 705.2 V681.9 H220.5" fill="none" stroke="#6a9a82" stroke-width=".7" opacity=".8"/>
<path d="M181.0 705.9 H220.7 V682.5" fill="none" stroke="#1a4a30" stroke-width=".7" opacity=".75"/>
<rect x="180.0" y="683.7" width="20.3" height="8.2" rx="2" fill="#a3c3b3"/>
<path d="M195.7 687.1 h2.6 l-1.3 1.7 z" fill="#256642"/>
<rect x="180.0" y="696.0" width="20.3" height="8.2" rx="2" fill="#a3c3b3"/>
<path d="M195.7 699.4 h2.6 l-1.3 1.7 z" fill="#256642"/>
<text x="204.8" y="690.4" font-size="7.8" fill="#fff" textLength="6.3" lengthAdjust="spacingAndGlyphs" stroke="#fff" stroke-width=".22">to</text>
<text x="204.8" y="702.7" font-size="7.8" fill="#fff" textLength="6.3" lengthAdjust="spacingAndGlyphs" stroke="#fff" stroke-width=".22">to</text>
<path d="M221.3 697.0 h-1.6 q-2.2 -0.4 -2 1.6 v2.2 q-0.2 2 2 1.6 h1.6 z" fill="#78ab42"/>
<rect x="221.0" y="693.8" width="30.6" height="12.4" rx="1.6" fill="#78ab42"/>
<path d="M221.3 705.2 V694.1 H251.1" fill="none" stroke="#a6cd7a" stroke-width=".7" opacity=".8"/>
<path d="M222.0 705.9 H251.2 V694.8" fill="none" stroke="#587e2f" stroke-width=".7" opacity=".75"/>
<rect x="223.3" y="695.9" width="25.4" height="8.2" rx="2" fill="#c7dead"/>
<path d="M244.1 699.3 h2.6 l-1.3 1.7 z" fill="#78ab42"/>
<text x="225.3" y="702.2" font-size="7.8" fill="#141414" textLength="16.2" lengthAdjust="spacingAndGlyphs" stroke="#141414" stroke-width=".15">true</text>
</svg>
<svg class="a" style="left:193.5px;top:193px" width="801" height="527" viewBox="193.5 193 801 527" font-family="Liberation Sans, sans-serif">
<!-- scrollbars -->
<rect x="985.5" y="302" width="6.6" height="252" rx="3.3" fill="#c9c9c9"/>
<rect x="449.7" y="710.6" width="372" height="8" rx="4" fill="#c9c9c9"/>
<!-- backpack -->
<g stroke="#161c1e" stroke-width="1.5" stroke-linejoin="round" stroke-linecap="round">
<path d="M963 213.4 Q973 212.4 974.4 222 L975.9 246 Q976.1 249.4 972.8 249.6 L970 249.8 L970.2 246.6 Q972.6 246.6 972.4 244 L971.2 224 Q970.6 217 965 216.2 Z" fill="#1d2426" stroke-width="1.1"/>
<path d="M953 208.5 Q963 211 966.5 224 Q969.8 238 968.6 250.5 Q968 254 964 254.8 L958 255.5 Z" fill="#4fbab0"/>
<path d="M941.6 207.6 Q941.8 202.9 946.6 202.9 Q951.4 202.9 951.6 207.6" fill="none" stroke-width="2.2"/>
<path d="M944 206.9 Q960 207 963.5 226 Q966.2 242 964.4 252.4 Q963.8 255.3 960 255.5 Q944 256.6 930 255 Q925.4 254.4 924.6 250 Q922 236 924 225 Q927.5 207 944 206.9 Z" fill="#4fbab0"/>
<path d="M933.2 240 Q932 236.2 936 236 Q945 235.2 954 236 Q958 236.2 957 240.5 L955.8 246.5 Q955.2 249 952.5 249.1 Q945 249.6 937.6 249.1 Q935 249 934.4 246.5 Z" fill="#4fbab0" stroke-width="1.3"/>
<path d="M933.2 240.8 Q945 239.6 957 240.9" fill="none" stroke-width="1.1"/>
</g>
<!-- zoom reset -->
<g stroke="#111" fill="none"><circle cx="955" cy="553.1" r="8.2" stroke-width="1.5"/><path d="M955 541 V545.5 M955 560.7 V565.2 M942.9 553.1 H947.4 M962.6 553.1 H967.1" stroke-width="1.3"/></g><circle cx="955" cy="553.1" r="3.1" fill="#111"/>
<!-- zoom in/out -->
<g stroke="#111" fill="#fff"><circle cx="954.7" cy="588.3" r="11.5" stroke-width="1.5"/><circle cx="954.7" cy="615.5" r="11.5" stroke-width="1.5"/><path d="M948.8 588.3 H960.6 M954.7 582.4 V594.2 M948.8 615.5 H960.6" stroke-width="1.5"/></g>
<!-- trash -->
<path d="M931 652.2 H941 L943 649.8 H954 L956 652.2 H965 V657 H931 Z" fill="#1e1e1e"/>
<path d="M933.6 660 H962.2 V690 Q962.2 692.8 959.4 692.8 H936.4 Q933.6 692.8 933.6 690 Z" fill="#1e1e1e"/>
<!-- warning indicator -->
<g fill="#fff" stroke="#222" stroke-width="1.1" stroke-linejoin="miter">
<path d="M221 644.2 L228.9 636.8 L236.8 644.2 Z" fill="#f2f2f2"/><path d="M221 667.4 L228.9 674.8 L236.8 667.4 Z" fill="#f2f2f2"/>
<path d="M274.2 644.2 L282.2 636.8 L290.2 644.2 Z" fill="#f2f2f2"/><path d="M274.2 667.4 L282.2 674.8 L290.2 667.4 Z" fill="#f2f2f2"/>
</g>
<path d="M227 650 L233 660.6 H221 Z" fill="#f6c21a" stroke="#d9a400" stroke-width=".7" opacity=".92"/><rect x="226.4" y="653.2" width="1.3" height="4" fill="#7a5a00"/><rect x="226.4" y="658" width="1.3" height="1.3" fill="#7a5a00"/>
<text x="237.4" y="660.4" font-size="9.5" fill="#222">0</text>
<circle cx="279.2" cy="655.8" r="6.3" fill="#e23b33" stroke="#c9c9c9" stroke-width="1"/><path d="M276.1 652.7 L282.3 658.9 M282.3 652.7 L276.1 658.9" stroke="#fff" stroke-width="1.8"/>
<text x="289" y="660.2" font-size="10" fill="#2a3a5a">0</text>
<!-- show warnings -->
<rect x="208.6" y="677.3" width="96.2" height="16.2" fill="#f0f0f0" stroke="#2a2a2a" stroke-width="1"/>
<text x="219.7" y="689.9" font-size="11.5" fill="#23324a" textLength="73.8" lengthAdjust="spacingAndGlyphs">Show Warnings</text>
</svg>
<div class="a" style="left:1009.5px;top:82px;width:14.5px;height:667px;background:#f1f1f1;border-left:1px solid #e2e2e2;"></div>
<div class="a" style="left:1012px;top:96px;width:10px;height:632px;background:#c1c1c1;"></div>
<div class="a" style="left:1014px;top:88px;width:0;height:0;border-left:3px solid transparent;border-right:3px solid transparent;border-bottom:3.5px solid #7a7a7a"></div>
<div class="a" style="left:1013.7px;top:738.5px;width:0;height:0;border-left:3.3px solid transparent;border-right:3.3px solid transparent;border-top:3.8px solid #333"></div>
<div class="a" style="left:0px;top:736.4px;width:1010px;height:11.4px;background:#f4f4f4;border-top:1px solid #dedede;"></div>
<div class="a" style="left:430.4px;top:739.03px;font-size:10.6px;color:#777;white-space:nowrap;line-height:13px;transform-origin:0 0;transform:scaleX(0.985);">Privacy Policy and Terms of Use</div>
<div id="dl" class="a"></div>
<svg class="a" style="left:17.2px;top:760.5px" width="10" height="14" viewBox="0 0 10 14"><path d="M0.6 0.6 H6.2 L9.4 3.8 V13.4 H0.6 Z" fill="#fff" stroke="#858a90" stroke-width="1.1"/><path d="M6.2 0.6 V3.8 H9.4" fill="none" stroke="#858a90" stroke-width="1"/></svg>
<div class="a" style="left:39.5px;top:762.54px;font-size:10px;color:#3c4043;white-space:nowrap;line-height:12px;transform-origin:0 0;transform:scaleX(0.916);">split_data.aia</div>
<svg class="a" style="left:160.5px;top:764px" width="10" height="7" viewBox="0 0 10 7"><path d="M1 5.8 L5 1.6 L9 5.8" fill="none" stroke="#4a4d51" stroke-width="1.5"/></svg>
<div class="a" style="left:184.5px;top:753.5px;width:1px;height:27.5px;background:#dadce0;"></div>
<svg class="a" style="left:199.2px;top:760.5px" width="10" height="14" viewBox="0 0 10 14"><path d="M0.6 0.6 H6.2 L9.4 3.8 V13.4 H0.6 Z" fill="#fff" stroke="#858a90" stroke-width="1.1"/><path d="M6.2 0.6 V3.8 H9.4" fill="none" stroke="#858a90" stroke-width="1"/></svg>
<div class="a" style="left:221.5px;top:762.54px;font-size:10px;color:#3c4043;white-space:nowrap;line-height:12px;transform-origin:0 0;transform:scaleX(0.917);">HandExoskeletonC....apk</div>
<svg class="a" style="left:342px;top:764px" width="10" height="7" viewBox="0 0 10 7"><path d="M1 5.8 L5 1.6 L9 5.8" fill="none" stroke="#4a4d51" stroke-width="1.5"/></svg>
<div class="a" style="left:366.5px;top:753.5px;width:1px;height:27.5px;background:#dadce0;"></div>
<svg class="a" style="left:380.7px;top:760.5px" width="10" height="14" viewBox="0 0 10 14"><path d="M0.6 0.6 H6.2 L9.4 3.8 V13.4 H0.6 Z" fill="#fff" stroke="#858a90" stroke-width="1.1"/><path d="M6.2 0.6 V3.8 H9.4" fill="none" stroke="#858a90" stroke-width="1"/></svg>
<div class="a" style="left:402.5px;top:762.54px;font-size:10px;color:#3c4043;white-space:nowrap;line-height:12px;transform-origin:0 0;transform:scaleX(0.926);">HandExoskeletonC....apk</div>
<svg class="a" style="left:523.5px;top:764px" width="10" height="7" viewBox="0 0 10 7"><path d="M1 5.8 L5 1.6 L9 5.8" fill="none" stroke="#4a4d51" stroke-width="1.5"/></svg>
<div class="a" style="left:547.5px;top:753.5px;width:1px;height:27.5px;background:#dadce0;"></div>
<svg class="a" style="left:561.7px;top:760.5px" width="10" height="14" viewBox="0 0 10 14"><path d="M0.6 0.6 H6.2 L9.4 3.8 V13.4 H0.6 Z" fill="#fff" stroke="#858a90" stroke-width="1.1"/><path d="M6.2 0.6 V3.8 H9.4" fill="none" stroke="#858a90" stroke-width="1"/></svg>
<div class="a" style="left:584.5px;top:762.54px;font-size:10px;color:#3c4043;white-space:nowrap;line-height:12px;transform-origin:0 0;transform:scaleX(0.917);">HandExoskeletonC....apk</div>
<svg class="a" style="left:705.5px;top:764px" width="10" height="7" viewBox="0 0 10 7"><path d="M1 5.8 L5 1.6 L9 5.8" fill="none" stroke="#4a4d51" stroke-width="1.5"/></svg>
<div class="a" style="left:729px;top:753.5px;width:1px;height:27.5px;background:#dadce0;"></div>
<div class="a" style="left:933.5px;top:754px;width:61.5px;height:25.5px;background:#fff;border:1px solid #dadce0;border-radius:4px;"></div>
<div class="a" style="left:946.0px;top:760.66px;font-size:10.5px;color:#2f3336;white-space:nowrap;line-height:13px;transform-origin:0 0;transform:scaleX(0.920);-webkit-text-stroke:0.35px #2f3336;">Show all</div>
<svg class="a" style="left:1004px;top:761.5px" width="11" height="11" viewBox="0 0 11 11"><path d="M1.5 1.5 L9.5 9.5 M9.5 1.5 L1.5 9.5" stroke="#3c4043" stroke-width="1.4"/></svg>
<div id="task" class="a"></div>
<div class="a" style="left:38.4px;top:787.6px;width:274.6px;height:31.4px;background:#f2f2f2;border-top:1px solid #cfcfcf;border-bottom:1px solid #cfcfcf;"></div>
<div class="a" style="left:472.5px;top:787px;width:39.5px;height:32px;background:#3c3c3d;"></div>
<div class="a" style="left:474px;top:817px;width:36.5px;height:2px;background:#8fb6e8;"></div>
<div class="a" style="left:631px;top:817px;width:32px;height:2px;background:#6ea2e0;"></div>
<div class="a" style="left:671px;top:817px;width:31px;height:2px;background:#6ea2e0;"></div>
<div class="a" style="left:711px;top:817px;width:31px;height:2px;background:#6ea2e0;"></div>
<div class="a" style="left:71.0px;top:797.04px;font-size:12px;color:#333;white-space:nowrap;line-height:15px;transform-origin:0 0;transform:scaleX(0.957);">Type here to search</div>
<svg class="a" style="left:0;top:787px" width="1024" height="32" viewBox="0 0 1024 32">
<!-- windows logo -->
<path d="M12.5 12.2 L18 11.4 V16 H12.5 Z M19 11.3 L26 10.3 V16 H19 Z M12.5 17 H18 V21.7 L12.5 20.9 Z M19 17 H26 V22.8 L19 21.8 Z" fill="#fff"/>
<!-- search icon -->
<circle cx="56" cy="15" r="4.2" fill="none" stroke="#222" stroke-width="1.3"/><path d="M53 18.2 L48.3 23" stroke="#222" stroke-width="1.4"/>
<!-- cortana -->
<circle cx="332.5" cy="16.5" r="5" fill="none" stroke="#fff" stroke-width="1.6"/>
<!-- task view -->
<path d="M365.5 12.5 H374.5 V20.5 H365.5 Z M363.5 14 V19 M376.5 12 V21 M366.5 10.5 H373.5 M366.5 22.5 H373.5" fill="none" stroke="#fff" stroke-width="1.1"/>
<!-- edge -->
<path d="M404.5 16.5 Q405 9.5 412 9.5 Q418.5 9.5 418.5 17 H409 Q409.5 21 414 21 Q416.5 21 418 20 V23 Q416 24 413 24 Q405.5 24 405.5 17 Q406.5 13 411 12.6 Q414 12.6 414.3 15 H409 Q409 13 404.5 16.5 Z" fill="#3277d6"/>
<!-- folder -->
<path d="M443 11 H449 L450.5 12.8 H459.5 V23 H443 Z" fill="#f6c443"/><rect x="443" y="14.5" width="16.5" height="8.5" fill="#fbd96a"/><rect x="447.5" y="18.5" width="7.5" height="4.5" fill="#3d8be0"/>
<!-- chrome -->
<circle cx="490" cy="16" r="8" fill="#db4437"/><path d="M490 16 L483.1 20 A8 8 0 0 0 494 22.9 Z" fill="#0f9d58"/><path d="M490 16 L494 22.9 A8 8 0 0 0 497.9 14 L490 14 Z" fill="#ffcd40"/><path d="M490 16 L483.1 20 A8 8 0 0 1 483.5 11.5 Z" fill="#0f9d58"/><circle cx="490" cy="16" r="3.7" fill="#fff"/><circle cx="490" cy="16" r="2.9" fill="#4285f4"/>
<!-- store -->
<path d="M521.5 12.5 H535.5 V23.5 H521.5 Z" fill="#f2f2f2"/><path d="M525.5 12.5 V10.5 Q528.5 7.5 531.5 10.5 V12.5" fill="none" stroke="#f2f2f2" stroke-width="1.2"/><rect x="525" y="15" width="3" height="3" fill="#f25022"/><rect x="529" y="15" width="3" height="3" fill="#7fba00"/><rect x="525" y="19" width="3" height="3" fill="#00a4ef"/><rect x="529" y="19" width="3" height="3" fill="#ffb900"/>
<!-- mcafee -->
<path d="M561.5 8.5 H577.5 V17 Q577.5 22 569.5 25 Q561.5 22 561.5 17 Z" fill="#b5121b" stroke="#ddd" stroke-width="1.2"/><path d="M565.5 19 V12.5 L569.5 16 L573.5 12.5 V19" fill="none" stroke="#fff" stroke-width="1.6"/>
<!-- mail -->
<path d="M599 13 L608 7.5 L617 13 V24 H599 Z" fill="#2a7fd4"/><path d="M599 13.5 L608 19.5 L617 13.5 V24 H599 Z" fill="#5fb0f4"/><path d="M599 24 L606 17.8 M617 24 L610 17.8" stroke="#2a7fd4" stroke-width="1"/>
<!-- word -->
<rect x="642" y="8.5" width="14" height="16" fill="#2b7cd3"/><rect x="642" y="8.5" width="14" height="5" fill="#41a5ee"/><rect x="642" y="19" width="14" height="5.5" fill="#185abd"/><rect x="636.5" y="11.5" width="10.5" height="10.5" fill="#185abd"/><text x="638" y="20.2" font-family="Liberation Sans" font-size="8.5" font-weight="bold" fill="#fff">W</text>
<!-- arduino -->
<circle cx="686.5" cy="16" r="8.3" fill="#00979d"/><path d="M686.5 16 C684.7 12.4 680.3 13 680.3 16 C680.3 19 684.7 19.6 686.5 16 C688.3 12.4 692.7 13 692.7 16 C692.7 19 688.3 19.6 686.5 16 Z" fill="none" stroke="#fff" stroke-width="1.5"/>
<!-- pcb app -->
<rect x="716" y="11" width="19" height="10" fill="#2f4a3e"/><rect x="718" y="13" width="5" height="6" fill="#c9d9cf"/><rect x="725" y="13" width="3" height="6" fill="#8fb09c"/><rect x="729.5" y="13" width="4" height="6" fill="#c9d9cf"/><path d="M717 10 V22 M721 10 V22 M725 10 V22 M729 10 V22 M733 10 V22" stroke="#e8efe9" stroke-width=".6" stroke-dasharray="1 9"/>
<!-- tray -->
<path d="M858 18.7 L862.7 13.6 L867.4 18.7" fill="none" stroke="#fff" stroke-width="1.3"/>
<path d="M876.3 13.8 H878 L881 11.2 V21 L878 18.4 H876.3 Z" fill="none" stroke="#fff" stroke-width="1"/><circle cx="885.3" cy="18.4" r="3.5" fill="#e81123"/><path d="M883.8 16.9 L886.8 19.9 M886.8 16.9 L883.8 19.9" stroke="#fff" stroke-width="1"/>
<path d="M896.3 18.6 Q894.3 18.6 894.3 16.4 Q894.3 14.6 896.6 14.4 Q897.3 11.6 900.3 11.6 Q903 11.6 903.8 14 Q906.5 14 906.5 16.4 Q906.5 18.6 904.4 18.6 Z" fill="#bdbdbd"/><path d="M894.3 16.4 Q896 13.5 899.5 14.8 Q902 16 904.5 18.6 H896.3 Q894.3 18.6 894.3 16.4Z" fill="#8e8e8e"/><circle cx="904.7" cy="18.4" r="3.5" fill="#e81123"/><path d="M903.2 16.9 L906.2 19.9 M906.2 16.9 L903.2 19.9" stroke="#fff" stroke-width="1"/>
<circle cx="924" cy="20.6" r="1.3" fill="#e6e6e6"/><path d="M920.6 21 A3.8 3.8 0 0 1 924.4 17.2 M918.3 21 A6.1 6.1 0 0 1 924.4 14.9 M916 21 A8.4 8.4 0 0 1 924.4 12.6" fill="none" stroke="#e6e6e6" stroke-width="1.15"/>
<!-- notification -->
<path d="M990.7 9.3 H1004.3 V19.5 H996 L993.2 22.4 V19.5 H990.7 Z" fill="#fff"/><path d="M992.8 12.2 H1002.2 M992.8 14.6 H1002.2 M992.8 17 H999" stroke="#15171c" stroke-width="1"/><circle cx="1003.8" cy="21.6" r="5.6" fill="#15171c" stroke="#d8d8d8" stroke-width="1"/><text x="1001.3" y="24.9" font-family="Liberation Sans" font-size="8.8" font-weight="bold" fill="#fff">5</text>
<rect x="1020" y="0" width="1" height="32" fill="#4a4c50"/>
</svg>
<div class="a" style="left:939.5px;top:789.44px;font-size:10px;color:#fff;white-space:nowrap;line-height:12px;transform-origin:0 0;transform:scaleX(0.891);">6:39 PM</div>
<div class="a" style="left:935.5px;top:803.84px;font-size:10px;color:#fff;white-space:nowrap;line-height:12px;transform-origin:0 0;transform:scaleX(0.940);">5/11/2020</div>
</div>
</body>
</html>
